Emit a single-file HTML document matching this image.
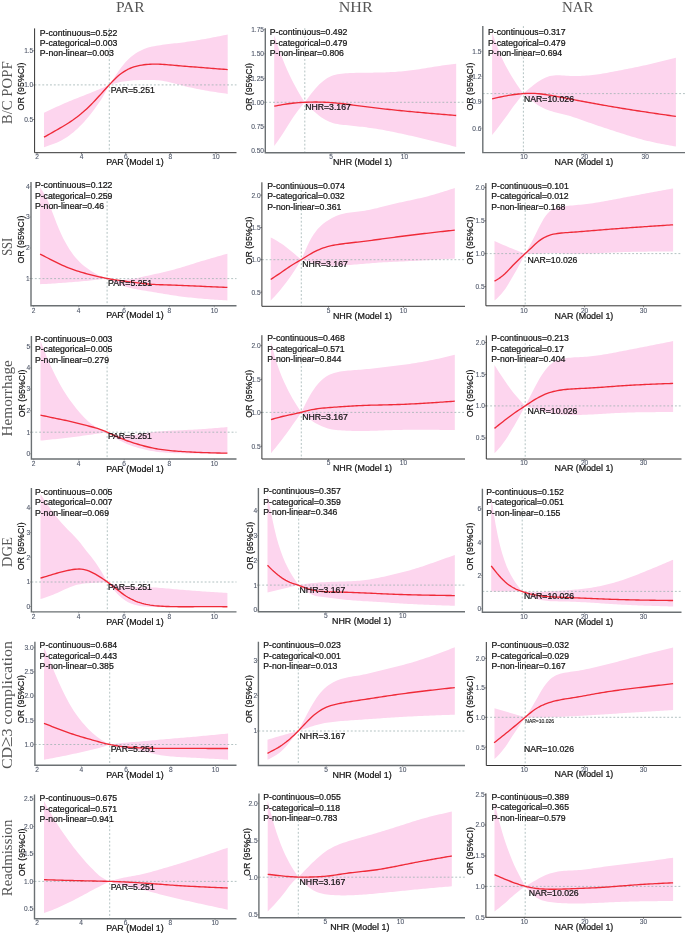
<!DOCTYPE html>
<html><head><meta charset="utf-8"><style>
html,body{margin:0;padding:0;background:#fff;}
svg{display:block;will-change:transform;}
.pt{font-family:"Liberation Sans",sans-serif;font-size:8.7px;fill:#151515;stroke:#151515;stroke-width:0.24px;}
.tk{font-family:"Liberation Sans",sans-serif;font-size:6.6px;fill:#4e5668;stroke:#4e5668;stroke-width:0.1px;}
.rl{font-family:"Liberation Serif",serif;font-size:15px;fill:#555;}
svg{-webkit-font-smoothing:antialiased;}
.dash{stroke:#9fb2b2;stroke-width:0.8;stroke-dasharray:1.9,1.95;fill:none;}
.curve{stroke:#EF2A38;stroke-width:1.35;fill:none;stroke-linejoin:round;}
.yl{font-family:"Liberation Sans",sans-serif;font-size:8.8px;fill:#111;stroke:#111;stroke-width:0.18px;}
</style></head><body>
<svg width="685" height="933" viewBox="0 0 685 933">
<path d="M44.00,112.70L46.11,111.70L48.21,110.71L50.32,109.72L52.43,108.75L54.53,107.79L56.64,106.83L58.75,105.89L60.85,104.95L62.96,104.02L65.06,103.11L67.17,102.20L69.28,101.31L71.38,100.42L73.49,99.56L75.60,98.71L77.70,97.88L79.81,97.06L81.92,96.24L84.02,95.42L86.13,94.61L88.24,93.78L90.34,92.94L92.45,92.09L94.55,91.22L96.66,90.34L98.77,89.45L100.87,88.56L102.98,87.65L105.09,86.74L107.19,85.82L109.30,84.90L111.34,81.79L113.38,78.71L115.42,75.67L117.47,72.71L119.51,69.83L121.55,67.08L123.59,64.49L125.63,62.10L127.67,59.93L129.71,57.98L131.76,56.23L133.80,54.68L135.84,53.30L137.88,52.05L139.92,50.93L141.96,49.94L144.00,49.06L146.04,48.28L148.09,47.61L150.13,47.04L152.17,46.55L154.21,46.13L156.25,45.76L158.29,45.44L160.33,45.14L162.38,44.86L164.42,44.59L166.46,44.33L168.50,44.08L170.54,43.84L172.58,43.60L174.62,43.37L176.67,43.13L178.71,42.89L180.75,42.64L182.79,42.39L184.83,42.13L186.87,41.86L188.91,41.57L190.96,41.27L193.00,40.96L195.04,40.64L197.08,40.31L199.12,39.96L201.16,39.61L203.20,39.25L205.24,38.89L207.29,38.51L209.33,38.13L211.37,37.74L213.41,37.35L215.45,36.95L217.49,36.55L219.53,36.14L221.58,35.73L223.62,35.32L225.66,34.91L227.70,34.50L227.7,93.9L225.66,93.61L223.62,93.32L221.58,93.03L219.53,92.73L217.49,92.43L215.45,92.12L213.41,91.81L211.37,91.49L209.33,91.16L207.29,90.82L205.24,90.47L203.20,90.11L201.16,89.73L199.12,89.34L197.08,88.94L195.04,88.52L193.00,88.08L190.96,87.62L188.91,87.15L186.87,86.65L184.83,86.13L182.79,85.60L180.75,85.05L178.71,84.51L176.67,83.97L174.62,83.43L172.58,82.92L170.54,82.43L168.50,81.97L166.46,81.54L164.42,81.17L162.38,80.84L160.33,80.56L158.29,80.35L156.25,80.20L154.21,80.09L152.17,80.03L150.13,79.99L148.09,79.97L146.04,79.97L144.00,79.99L141.96,80.02L139.92,80.07L137.88,80.14L135.84,80.24L133.80,80.37L131.76,80.52L129.71,80.71L127.67,80.93L125.63,81.20L123.59,81.51L121.55,81.86L119.51,82.27L117.47,82.73L115.42,83.23L113.38,83.77L111.34,84.33L109.30,84.90L107.19,88.95L105.09,92.86L102.98,96.51L100.87,99.91L98.77,103.09L96.66,106.10L94.55,108.97L92.45,111.73L90.34,114.41L88.24,117.00L86.13,119.49L84.02,121.88L81.92,124.16L79.81,126.33L77.70,128.38L75.60,130.31L73.49,132.13L71.38,133.83L69.28,135.42L67.17,136.89L65.06,138.26L62.96,139.51L60.85,140.66L58.75,141.72L56.64,142.68L54.53,143.56L52.43,144.37L50.32,145.12L48.21,145.84L46.11,146.53L44.00,147.20Z" fill="#FDD5EE"/>
<line x1="109.3" y1="28.4" x2="109.3" y2="152.7" class="dash"/>
<line x1="34.6" y1="84.9" x2="236.5" y2="84.9" class="dash"/>
<path d="M44.00,137.20L46.04,136.05L48.08,134.89L50.12,133.74L52.16,132.58L54.21,131.42L56.25,130.25L58.29,129.08L60.33,127.90L62.37,126.71L64.41,125.50L66.45,124.25L68.49,122.97L70.53,121.64L72.58,120.26L74.62,118.81L76.66,117.31L78.70,115.73L80.74,114.08L82.78,112.35L84.82,110.54L86.86,108.66L88.90,106.71L90.95,104.69L92.99,102.61L95.03,100.47L97.07,98.29L99.11,96.07L101.15,93.83L103.19,91.57L105.23,89.31L107.27,87.07L109.32,84.84L111.36,82.65L113.40,80.52L115.44,78.49L117.48,76.58L119.52,74.83L121.56,73.24L123.60,71.83L125.64,70.57L127.69,69.47L129.73,68.50L131.77,67.67L133.81,66.96L135.85,66.35L137.89,65.84L139.93,65.42L141.97,65.07L144.01,64.78L146.06,64.54L148.10,64.36L150.14,64.23L152.18,64.15L154.22,64.11L156.26,64.12L158.30,64.18L160.34,64.27L162.38,64.39L164.43,64.53L166.47,64.69L168.51,64.86L170.55,65.03L172.59,65.20L174.63,65.37L176.67,65.54L178.71,65.71L180.75,65.88L182.80,66.05L184.84,66.22L186.88,66.38L188.92,66.55L190.96,66.71L193.00,66.88L195.04,67.04L197.08,67.20L199.12,67.36L201.17,67.53L203.21,67.69L205.25,67.85L207.29,68.01L209.33,68.17L211.37,68.33L213.41,68.49L215.45,68.65L217.49,68.81L219.54,68.97L221.58,69.12L223.62,69.28L225.66,69.44L227.70,69.60" class="curve"/>
<path d="M34.6,28.4V152.7H236.5" fill="none" stroke="#333" stroke-width="1.0"/>
<line x1="37.0" y1="152.7" x2="37.0" y2="154.2" stroke="#333" stroke-width="0.6"/>
<text x="37.0" y="159.4" class="tk" text-anchor="middle">2</text>
<line x1="81.5" y1="152.7" x2="81.5" y2="154.2" stroke="#333" stroke-width="0.6"/>
<text x="81.5" y="159.4" class="tk" text-anchor="middle">4</text>
<line x1="125.8" y1="152.7" x2="125.8" y2="154.2" stroke="#333" stroke-width="0.6"/>
<text x="125.8" y="159.4" class="tk" text-anchor="middle">6</text>
<line x1="170.3" y1="152.7" x2="170.3" y2="154.2" stroke="#333" stroke-width="0.6"/>
<text x="170.3" y="159.4" class="tk" text-anchor="middle">8</text>
<line x1="216.0" y1="152.7" x2="216.0" y2="154.2" stroke="#333" stroke-width="0.6"/>
<text x="216.0" y="159.4" class="tk" text-anchor="middle">10</text>
<line x1="33.1" y1="50.8" x2="34.6" y2="50.8" stroke="#333" stroke-width="0.6"/>
<text x="33.3" y="53.2" class="tk" text-anchor="end">1.5</text>
<line x1="33.1" y1="85.0" x2="34.6" y2="85.0" stroke="#333" stroke-width="0.6"/>
<text x="33.3" y="87.4" class="tk" text-anchor="end">1.0</text>
<line x1="33.1" y1="119.5" x2="34.6" y2="119.5" stroke="#333" stroke-width="0.6"/>
<text x="33.3" y="121.9" class="tk" text-anchor="end">0.5</text>
<text x="39.8" y="35.8" class="pt">P-continuous=0.522</text>
<text x="39.8" y="46.1" class="pt">P-categorical=0.003</text>
<text x="39.8" y="56.4" class="pt">P-non-linear=0.003</text>
<text x="110.8" y="92.7" class="pt">PAR=5.251</text>
<text x="106.2" y="165.3" class="pt" style="font-size:8.9px">PAR (Model 1)</text>
<text transform="translate(24.3,86.5) rotate(-90)" class="yl" text-anchor="middle">OR (95%CI)</text>
<path d="M274.20,34.90L276.39,41.64L278.57,48.06L280.76,54.14L282.94,59.86L285.13,65.22L287.31,70.26L289.50,75.02L291.69,79.50L293.87,83.75L296.06,87.83L298.24,91.76L300.43,95.49L302.61,99.01L304.80,102.30L306.85,99.52L308.89,96.77L310.94,94.08L312.98,91.48L315.03,89.01L317.08,86.69L319.12,84.56L321.17,82.63L323.21,80.91L325.26,79.40L327.31,78.08L329.35,76.96L331.40,76.02L333.44,75.28L335.49,74.69L337.54,74.24L339.58,73.90L341.63,73.64L343.67,73.45L345.72,73.31L347.76,73.18L349.81,73.07L351.86,72.98L353.90,72.91L355.95,72.85L357.99,72.80L360.04,72.76L362.09,72.73L364.13,72.71L366.18,72.69L368.22,72.67L370.27,72.65L372.32,72.63L374.36,72.61L376.41,72.58L378.45,72.54L380.50,72.49L382.55,72.44L384.59,72.38L386.64,72.30L388.68,72.22L390.73,72.12L392.78,72.01L394.82,71.89L396.87,71.76L398.91,71.61L400.96,71.44L403.01,71.26L405.05,71.05L407.10,70.84L409.14,70.60L411.19,70.34L413.24,70.06L415.28,69.77L417.33,69.47L419.37,69.15L421.42,68.82L423.46,68.49L425.51,68.16L427.56,67.82L429.60,67.48L431.65,67.15L433.69,66.83L435.74,66.51L437.79,66.20L439.83,65.91L441.88,65.62L443.92,65.35L445.97,65.08L448.02,64.81L450.06,64.56L452.11,64.30L454.15,64.05L456.20,63.80L456.2,147.0L454.15,146.45L452.11,145.90L450.06,145.36L448.02,144.81L445.97,144.27L443.92,143.74L441.88,143.20L439.83,142.67L437.79,142.15L435.74,141.64L433.69,141.13L431.65,140.63L429.60,140.13L427.56,139.64L425.51,139.16L423.46,138.67L421.42,138.20L419.37,137.73L417.33,137.26L415.28,136.79L413.24,136.33L411.19,135.86L409.14,135.40L407.10,134.95L405.05,134.49L403.01,134.04L400.96,133.59L398.91,133.14L396.87,132.71L394.82,132.28L392.78,131.85L390.73,131.44L388.68,131.03L386.64,130.63L384.59,130.25L382.55,129.87L380.50,129.51L378.45,129.16L376.41,128.83L374.36,128.51L372.32,128.20L370.27,127.91L368.22,127.63L366.18,127.37L364.13,127.11L362.09,126.86L360.04,126.63L357.99,126.40L355.95,126.17L353.90,125.95L351.86,125.74L349.81,125.53L347.76,125.32L345.72,125.11L343.67,124.90L341.63,124.68L339.58,124.41L337.54,124.09L335.49,123.69L333.44,123.18L331.40,122.55L329.35,121.78L327.31,120.85L325.26,119.78L323.21,118.57L321.17,117.21L319.12,115.70L317.08,114.06L315.03,112.29L312.98,110.42L310.94,108.46L308.89,106.44L306.85,104.38L304.80,102.30L302.61,104.83L300.43,107.51L298.24,110.32L296.06,113.25L293.87,116.29L291.69,119.45L289.50,122.88L287.31,126.46L285.13,130.03L282.94,133.40L280.76,136.67L278.57,139.88L276.39,143.03L274.20,146.10Z" fill="#FDD5EE"/>
<line x1="304.8" y1="28.2" x2="304.8" y2="152.8" class="dash"/>
<line x1="265.3" y1="102.3" x2="465.0" y2="102.3" class="dash"/>
<path d="M274.20,106.20L276.22,105.82L278.24,105.44L280.27,105.06L282.29,104.70L284.31,104.36L286.33,104.04L288.36,103.74L290.38,103.47L292.40,103.23L294.42,103.01L296.44,102.83L298.47,102.67L300.49,102.53L302.51,102.41L304.53,102.31L306.56,102.22L308.58,102.15L310.60,102.10L312.62,102.06L314.64,102.04L316.67,102.04L318.69,102.05L320.71,102.09L322.73,102.14L324.76,102.22L326.78,102.31L328.80,102.43L330.82,102.56L332.84,102.72L334.87,102.90L336.89,103.09L338.91,103.30L340.93,103.53L342.96,103.76L344.98,104.01L347.00,104.26L349.02,104.53L351.04,104.79L353.07,105.06L355.09,105.34L357.11,105.61L359.13,105.88L361.16,106.15L363.18,106.41L365.20,106.67L367.22,106.92L369.24,107.18L371.27,107.42L373.29,107.67L375.31,107.91L377.33,108.14L379.36,108.37L381.38,108.60L383.40,108.83L385.42,109.05L387.44,109.27L389.47,109.49L391.49,109.70L393.51,109.91L395.53,110.12L397.56,110.32L399.58,110.53L401.60,110.73L403.62,110.92L405.64,111.12L407.67,111.31L409.69,111.50L411.71,111.69L413.73,111.88L415.76,112.06L417.78,112.25L419.80,112.43L421.82,112.61L423.84,112.78L425.87,112.96L427.89,113.14L429.91,113.31L431.93,113.48L433.96,113.66L435.98,113.83L438.00,114.00L440.02,114.17L442.04,114.33L444.07,114.50L446.09,114.67L448.11,114.84L450.13,115.00L452.16,115.17L454.18,115.33L456.20,115.50" class="curve"/>
<path d="M265.3,28.2V152.8H465.0" fill="none" stroke="#6b7073" stroke-width="1.4"/>
<line x1="331.1" y1="152.8" x2="331.1" y2="154.3" stroke="#6b7073" stroke-width="0.6"/>
<text x="331.1" y="158.8" class="tk" text-anchor="middle">5</text>
<line x1="404.5" y1="152.8" x2="404.5" y2="154.3" stroke="#6b7073" stroke-width="0.6"/>
<text x="404.5" y="158.8" class="tk" text-anchor="middle">10</text>
<line x1="263.8" y1="29.6" x2="265.3" y2="29.6" stroke="#6b7073" stroke-width="0.6"/>
<text x="264.0" y="32.0" class="tk" text-anchor="end">1.75</text>
<line x1="263.8" y1="53.8" x2="265.3" y2="53.8" stroke="#6b7073" stroke-width="0.6"/>
<text x="264.0" y="56.2" class="tk" text-anchor="end">1.50</text>
<line x1="263.8" y1="78.3" x2="265.3" y2="78.3" stroke="#6b7073" stroke-width="0.6"/>
<text x="264.0" y="80.7" class="tk" text-anchor="end">1.25</text>
<line x1="263.8" y1="102.3" x2="265.3" y2="102.3" stroke="#6b7073" stroke-width="0.6"/>
<text x="264.0" y="104.7" class="tk" text-anchor="end">1.00</text>
<line x1="263.8" y1="126.9" x2="265.3" y2="126.9" stroke="#6b7073" stroke-width="0.6"/>
<text x="264.0" y="129.3" class="tk" text-anchor="end">0.75</text>
<line x1="263.8" y1="151.0" x2="265.3" y2="151.0" stroke="#6b7073" stroke-width="0.6"/>
<text x="264.0" y="153.4" class="tk" text-anchor="end">0.50</text>
<text x="269.8" y="35.4" class="pt">P-continuous=0.492</text>
<text x="269.8" y="45.8" class="pt">P-categorical=0.479</text>
<text x="269.8" y="56.3" class="pt">P-non-linear=0.806</text>
<text x="305.2" y="109.7" class="pt">NHR=3.167</text>
<text x="332.9" y="165.4" class="pt" style="font-size:8.9px">NHR (Model 1)</text>
<text transform="translate(252.3,86.9) rotate(-90)" class="yl" text-anchor="middle">OR (95%CI)</text>
<path d="M492.10,32.30L494.34,38.75L496.57,44.85L498.81,50.59L501.04,55.94L503.28,60.90L505.51,65.45L507.75,69.61L509.99,73.49L512.22,77.19L514.46,80.76L516.69,84.21L518.93,87.51L521.16,90.64L523.40,93.60L525.43,91.83L527.47,90.08L529.50,88.36L531.53,86.69L533.57,85.07L535.60,83.54L537.63,82.09L539.67,80.75L541.70,79.53L543.73,78.45L545.77,77.51L547.80,76.72L549.83,76.10L551.87,75.65L553.90,75.38L555.93,75.26L557.97,75.24L560.00,75.31L562.03,75.43L564.07,75.57L566.10,75.70L568.13,75.80L570.17,75.89L572.20,75.95L574.23,75.98L576.27,75.99L578.30,75.97L580.33,75.92L582.37,75.85L584.40,75.75L586.43,75.62L588.47,75.46L590.50,75.27L592.53,75.06L594.57,74.81L596.60,74.54L598.63,74.25L600.67,73.93L602.70,73.60L604.73,73.25L606.77,72.89L608.80,72.51L610.83,72.12L612.87,71.73L614.90,71.34L616.93,70.94L618.97,70.54L621.00,70.14L623.03,69.75L625.07,69.35L627.10,68.95L629.13,68.54L631.17,68.14L633.20,67.73L635.23,67.31L637.27,66.89L639.30,66.47L641.33,66.03L643.37,65.59L645.40,65.14L647.43,64.68L649.47,64.22L651.50,63.74L653.53,63.26L655.57,62.78L657.60,62.29L659.63,61.79L661.67,61.29L663.70,60.78L665.73,60.27L667.77,59.76L669.80,59.25L671.83,58.73L673.87,58.22L675.90,57.70L675.9,146.5L673.87,146.14L671.83,145.78L669.80,145.42L667.77,145.06L665.73,144.69L663.70,144.31L661.67,143.93L659.63,143.53L657.60,143.13L655.57,142.71L653.53,142.28L651.50,141.83L649.47,141.37L647.43,140.89L645.40,140.40L643.37,139.88L641.33,139.34L639.30,138.79L637.27,138.21L635.23,137.62L633.20,137.02L631.17,136.40L629.13,135.78L627.10,135.14L625.07,134.50L623.03,133.85L621.00,133.20L618.97,132.55L616.93,131.89L614.90,131.24L612.87,130.58L610.83,129.92L608.80,129.27L606.77,128.60L604.73,127.94L602.70,127.27L600.67,126.59L598.63,125.91L596.60,125.22L594.57,124.53L592.53,123.82L590.50,123.11L588.47,122.38L586.43,121.66L584.40,120.93L582.37,120.20L580.33,119.48L578.30,118.78L576.27,118.08L574.23,117.40L572.20,116.74L570.17,116.11L568.13,115.51L566.10,114.94L564.07,114.40L562.03,113.90L560.00,113.41L557.97,112.92L555.93,112.42L553.90,111.90L551.87,111.33L549.83,110.70L547.80,110.00L545.77,109.22L543.73,108.34L541.70,107.35L539.67,106.24L537.63,104.99L535.60,103.61L533.57,102.11L531.53,100.52L529.50,98.86L527.47,97.14L525.43,95.38L523.40,93.60L521.16,96.40L518.93,99.26L516.69,102.16L514.46,105.11L512.22,108.11L509.99,111.21L507.75,114.39L505.51,117.54L503.28,120.60L501.04,123.59L498.81,126.54L496.57,129.44L494.34,132.30L492.10,135.10Z" fill="#FDD5EE"/>
<line x1="523.4" y1="26.1" x2="523.4" y2="152.6" class="dash"/>
<line x1="482.8" y1="93.6" x2="685.0" y2="93.6" class="dash"/>
<path d="M492.10,98.80L494.14,98.34L496.18,97.89L498.23,97.45L500.27,97.01L502.31,96.59L504.35,96.18L506.40,95.79L508.44,95.43L510.48,95.09L512.52,94.78L514.56,94.49L516.61,94.24L518.65,94.01L520.69,93.81L522.73,93.64L524.78,93.50L526.82,93.40L528.86,93.34L530.90,93.32L532.94,93.34L534.99,93.42L537.03,93.56L539.07,93.74L541.11,93.97L543.16,94.24L545.20,94.53L547.24,94.85L549.28,95.19L551.32,95.54L553.37,95.90L555.41,96.27L557.45,96.63L559.49,97.01L561.54,97.39L563.58,97.77L565.62,98.15L567.66,98.54L569.70,98.92L571.75,99.31L573.79,99.70L575.83,100.08L577.87,100.47L579.92,100.85L581.96,101.23L584.00,101.62L586.04,102.00L588.08,102.38L590.13,102.75L592.17,103.13L594.21,103.50L596.25,103.87L598.30,104.24L600.34,104.61L602.38,104.97L604.42,105.33L606.46,105.69L608.51,106.05L610.55,106.40L612.59,106.75L614.63,107.10L616.68,107.44L618.72,107.79L620.76,108.12L622.80,108.46L624.84,108.79L626.89,109.12L628.93,109.44L630.97,109.76L633.01,110.08L635.06,110.40L637.10,110.72L639.14,111.03L641.18,111.34L643.22,111.65L645.27,111.95L647.31,112.26L649.35,112.56L651.39,112.86L653.44,113.16L655.48,113.46L657.52,113.76L659.56,114.05L661.60,114.35L663.65,114.64L665.69,114.94L667.73,115.23L669.77,115.52L671.82,115.82L673.86,116.11L675.90,116.40" class="curve"/>
<path d="M482.8,26.1V152.6H685.0" fill="none" stroke="#6b7073" stroke-width="1.4"/>
<line x1="523.9" y1="152.6" x2="523.9" y2="154.1" stroke="#6b7073" stroke-width="0.6"/>
<text x="523.9" y="158.6" class="tk" text-anchor="middle">10</text>
<line x1="584.6" y1="152.6" x2="584.6" y2="154.1" stroke="#6b7073" stroke-width="0.6"/>
<text x="584.6" y="158.6" class="tk" text-anchor="middle">20</text>
<line x1="645.2" y1="152.6" x2="645.2" y2="154.1" stroke="#6b7073" stroke-width="0.6"/>
<text x="645.2" y="158.6" class="tk" text-anchor="middle">30</text>
<line x1="481.3" y1="51.2" x2="482.8" y2="51.2" stroke="#6b7073" stroke-width="0.6"/>
<text x="481.5" y="53.6" class="tk" text-anchor="end">1.5</text>
<line x1="481.3" y1="76.4" x2="482.8" y2="76.4" stroke="#6b7073" stroke-width="0.6"/>
<text x="481.5" y="78.8" class="tk" text-anchor="end">1.2</text>
<line x1="481.3" y1="102.0" x2="482.8" y2="102.0" stroke="#6b7073" stroke-width="0.6"/>
<text x="481.5" y="104.4" class="tk" text-anchor="end">0.9</text>
<line x1="481.3" y1="128.1" x2="482.8" y2="128.1" stroke="#6b7073" stroke-width="0.6"/>
<text x="481.5" y="130.5" class="tk" text-anchor="end">0.6</text>
<text x="488.0" y="35.4" class="pt">P-continuous=0.317</text>
<text x="488.0" y="45.8" class="pt">P-categorical=0.479</text>
<text x="488.0" y="56.3" class="pt">P-non-linear=0.694</text>
<text x="524.0" y="101.5" class="pt">NAR=10.026</text>
<text x="554.6" y="165.4" class="pt" style="font-size:8.9px">NAR (Model 1)</text>
<text transform="translate(473.2,86.6) rotate(-90)" class="yl" text-anchor="middle">OR (95%CI)</text>
<path d="M40.10,187.50L42.19,190.62L44.29,193.97L46.38,197.78L48.48,202.28L50.57,207.50L52.66,213.04L54.76,218.59L56.85,223.98L58.94,229.08L61.04,233.80L63.13,238.13L65.22,242.11L67.32,245.79L69.41,249.17L71.51,252.28L73.60,255.13L75.69,257.73L77.79,260.09L79.88,262.23L81.97,264.16L84.07,265.91L86.16,267.52L88.26,269.01L90.35,270.43L92.44,271.76L94.54,273.02L96.63,274.18L98.72,275.24L100.82,276.19L102.91,277.04L105.01,277.84L107.10,278.60L109.14,278.90L111.18,279.19L113.22,279.44L115.26,279.67L117.29,279.83L119.33,279.94L121.37,279.96L123.41,279.91L125.45,279.78L127.49,279.59L129.53,279.35L131.57,279.05L133.61,278.71L135.65,278.33L137.68,277.92L139.72,277.49L141.76,277.04L143.80,276.58L145.84,276.12L147.88,275.67L149.92,275.21L151.96,274.76L154.00,274.31L156.04,273.86L158.07,273.41L160.11,272.95L162.15,272.48L164.19,272.00L166.23,271.51L168.27,271.01L170.31,270.49L172.35,269.96L174.39,269.41L176.43,268.83L178.46,268.25L180.50,267.65L182.54,267.04L184.58,266.42L186.62,265.79L188.66,265.16L190.70,264.52L192.74,263.89L194.78,263.25L196.82,262.62L198.85,261.99L200.89,261.37L202.93,260.75L204.97,260.14L207.01,259.54L209.05,258.94L211.09,258.35L213.13,257.76L215.17,257.17L217.21,256.59L219.24,256.01L221.28,255.43L223.32,254.85L225.36,254.28L227.40,253.70L227.4,300.5L225.36,300.37L223.32,300.24L221.28,300.10L219.24,299.97L217.21,299.83L215.17,299.69L213.13,299.54L211.09,299.40L209.05,299.25L207.01,299.09L204.97,298.93L202.93,298.76L200.89,298.59L198.85,298.40L196.82,298.22L194.78,298.02L192.74,297.81L190.70,297.60L188.66,297.38L186.62,297.15L184.58,296.91L182.54,296.66L180.50,296.40L178.46,296.13L176.43,295.85L174.39,295.56L172.35,295.26L170.31,294.95L168.27,294.62L166.23,294.29L164.19,293.96L162.15,293.62L160.11,293.27L158.07,292.92L156.04,292.57L154.00,292.22L151.96,291.87L149.92,291.52L147.88,291.18L145.84,290.84L143.80,290.51L141.76,290.18L139.72,289.83L137.68,289.48L135.65,289.10L133.61,288.69L131.57,288.25L129.53,287.76L127.49,287.23L125.45,286.64L123.41,286.00L121.37,285.28L119.33,284.49L117.29,283.62L115.26,282.69L113.22,281.71L111.18,280.70L109.14,279.65L107.10,278.60L105.01,278.85L102.91,279.10L100.82,279.34L98.72,279.58L96.63,279.81L94.54,280.04L92.44,280.26L90.35,280.48L88.26,280.69L86.16,280.90L84.07,281.10L81.97,281.30L79.88,281.49L77.79,281.67L75.69,281.85L73.60,282.02L71.51,282.19L69.41,282.35L67.32,282.51L65.22,282.66L63.13,282.81L61.04,282.96L58.94,283.11L56.85,283.25L54.76,283.38L52.66,283.51L50.57,283.64L48.48,283.76L46.38,283.88L44.29,283.99L42.19,284.10L40.10,284.20Z" fill="#FDD5EE"/>
<line x1="107.1" y1="181.9" x2="107.1" y2="305.8" class="dash"/>
<line x1="31.0" y1="278.6" x2="236.5" y2="278.6" class="dash"/>
<path d="M40.10,254.20L42.14,255.20L44.17,256.21L46.21,257.23L48.24,258.25L50.28,259.29L52.32,260.33L54.35,261.37L56.39,262.39L58.42,263.40L60.46,264.38L62.49,265.33L64.53,266.24L66.57,267.11L68.60,267.94L70.64,268.72L72.67,269.46L74.71,270.16L76.75,270.83L78.78,271.47L80.82,272.09L82.85,272.69L84.89,273.27L86.93,273.82L88.96,274.36L91.00,274.87L93.03,275.37L95.07,275.85L97.10,276.32L99.14,276.79L101.18,277.24L103.21,277.68L105.25,278.11L107.28,278.51L109.32,278.88L111.36,279.23L113.39,279.56L115.43,279.87L117.46,280.16L119.50,280.45L121.53,280.73L123.57,281.01L125.61,281.29L127.64,281.57L129.68,281.85L131.71,282.14L133.75,282.42L135.79,282.69L137.82,282.95L139.86,283.20L141.89,283.44L143.93,283.66L145.97,283.86L148.00,284.03L150.04,284.19L152.07,284.32L154.11,284.44L156.14,284.55L158.18,284.64L160.22,284.72L162.25,284.79L164.29,284.86L166.32,284.92L168.36,284.98L170.40,285.04L172.43,285.10L174.47,285.17L176.50,285.24L178.54,285.32L180.58,285.40L182.61,285.48L184.65,285.57L186.68,285.65L188.72,285.74L190.75,285.84L192.79,285.93L194.83,286.02L196.86,286.11L198.90,286.20L200.93,286.29L202.97,286.38L205.01,286.47L207.04,286.56L209.08,286.64L211.11,286.73L213.15,286.82L215.18,286.90L217.22,286.98L219.26,287.07L221.29,287.15L223.33,287.23L225.36,287.32L227.40,287.40" class="curve"/>
<path d="M31.0,181.9V305.8H236.5" fill="none" stroke="#6b7073" stroke-width="1.4"/>
<line x1="33.7" y1="305.8" x2="33.7" y2="307.3" stroke="#6b7073" stroke-width="0.6"/>
<text x="33.7" y="312.5" class="tk" text-anchor="middle">2</text>
<line x1="78.7" y1="305.8" x2="78.7" y2="307.3" stroke="#6b7073" stroke-width="0.6"/>
<text x="78.7" y="312.5" class="tk" text-anchor="middle">4</text>
<line x1="124.2" y1="305.8" x2="124.2" y2="307.3" stroke="#6b7073" stroke-width="0.6"/>
<text x="124.2" y="312.5" class="tk" text-anchor="middle">6</text>
<line x1="169.4" y1="305.8" x2="169.4" y2="307.3" stroke="#6b7073" stroke-width="0.6"/>
<text x="169.4" y="312.5" class="tk" text-anchor="middle">8</text>
<line x1="214.3" y1="305.8" x2="214.3" y2="307.3" stroke="#6b7073" stroke-width="0.6"/>
<text x="214.3" y="312.5" class="tk" text-anchor="middle">10</text>
<line x1="29.5" y1="186.6" x2="31.0" y2="186.6" stroke="#6b7073" stroke-width="0.6"/>
<text x="29.7" y="189.0" class="tk" text-anchor="end">4</text>
<line x1="29.5" y1="217.0" x2="31.0" y2="217.0" stroke="#6b7073" stroke-width="0.6"/>
<text x="29.7" y="219.4" class="tk" text-anchor="end">3</text>
<line x1="29.5" y1="248.0" x2="31.0" y2="248.0" stroke="#6b7073" stroke-width="0.6"/>
<text x="29.7" y="250.4" class="tk" text-anchor="end">2</text>
<line x1="29.5" y1="278.6" x2="31.0" y2="278.6" stroke="#6b7073" stroke-width="0.6"/>
<text x="29.7" y="281.0" class="tk" text-anchor="end">1</text>
<text x="34.9" y="188.4" class="pt">P-continuous=0.122</text>
<text x="34.9" y="198.9" class="pt">P-categorical=0.259</text>
<text x="34.9" y="209.4" class="pt">P-non-linear=0.46</text>
<text x="108.1" y="286.2" class="pt">PAR=5.251</text>
<text x="106.2" y="318.0" class="pt" style="font-size:8.9px">PAR (Model 1)</text>
<text transform="translate(23.9,239.6) rotate(-90)" class="yl" text-anchor="middle">OR (95%CI)</text>
<path d="M270.70,237.40L272.89,238.52L275.07,239.73L277.26,241.02L279.44,242.39L281.63,243.82L283.81,245.31L286.00,246.91L288.19,248.65L290.37,250.45L292.56,252.26L294.74,254.08L296.93,255.92L299.11,257.80L301.30,259.70L303.35,254.90L305.39,250.22L307.44,245.75L309.49,241.59L311.53,237.85L313.58,234.55L315.63,231.64L317.67,229.10L319.72,226.89L321.77,224.98L323.81,223.31L325.86,221.82L327.91,220.47L329.95,219.21L332.00,218.05L334.05,216.99L336.09,216.04L338.14,215.21L340.19,214.50L342.23,213.91L344.28,213.43L346.33,213.04L348.37,212.72L350.42,212.46L352.47,212.24L354.51,212.03L356.56,211.83L358.61,211.62L360.65,211.37L362.70,211.07L364.75,210.74L366.79,210.37L368.84,209.97L370.89,209.55L372.93,209.09L374.98,208.62L377.03,208.13L379.07,207.62L381.12,207.11L383.17,206.58L385.21,206.06L387.26,205.54L389.31,205.02L391.35,204.52L393.40,204.02L395.45,203.54L397.49,203.07L399.54,202.62L401.59,202.17L403.63,201.73L405.68,201.29L407.73,200.85L409.77,200.41L411.82,199.97L413.87,199.53L415.91,199.08L417.96,198.62L420.01,198.15L422.05,197.67L424.10,197.18L426.15,196.67L428.19,196.14L430.24,195.59L432.29,195.02L434.33,194.43L436.38,193.83L438.43,193.22L440.47,192.59L442.52,191.96L444.57,191.31L446.61,190.66L448.66,190.00L450.71,189.34L452.75,188.67L454.80,188.00L454.8,258.5L452.75,258.63L450.71,258.76L448.66,258.89L446.61,259.02L444.57,259.15L442.52,259.27L440.47,259.40L438.43,259.53L436.38,259.65L434.33,259.78L432.29,259.90L430.24,260.02L428.19,260.14L426.15,260.25L424.10,260.37L422.05,260.48L420.01,260.59L417.96,260.70L415.91,260.81L413.87,260.91L411.82,261.01L409.77,261.11L407.73,261.20L405.68,261.30L403.63,261.39L401.59,261.48L399.54,261.57L397.49,261.66L395.45,261.75L393.40,261.84L391.35,261.94L389.31,262.04L387.26,262.15L385.21,262.26L383.17,262.37L381.12,262.49L379.07,262.62L377.03,262.76L374.98,262.91L372.93,263.06L370.89,263.22L368.84,263.39L366.79,263.57L364.75,263.74L362.70,263.92L360.65,264.10L358.61,264.28L356.56,264.45L354.51,264.62L352.47,264.78L350.42,264.94L348.37,265.09L346.33,265.22L344.28,265.35L342.23,265.45L340.19,265.55L338.14,265.62L336.09,265.66L334.05,265.68L332.00,265.67L329.95,265.63L327.91,265.55L325.86,265.42L323.81,265.25L321.77,265.00L319.72,264.67L317.67,264.23L315.63,263.71L313.58,263.13L311.53,262.52L309.49,261.91L307.44,261.34L305.39,260.78L303.35,260.24L301.30,259.70L299.11,263.30L296.93,266.79L294.74,270.18L292.56,273.46L290.37,276.65L288.19,279.76L286.00,282.75L283.81,285.58L281.63,288.30L279.44,290.93L277.26,293.48L275.07,295.93L272.89,298.28L270.70,300.50Z" fill="#FDD5EE"/>
<line x1="301.3" y1="182.3" x2="301.3" y2="306.3" class="dash"/>
<line x1="261.9" y1="259.7" x2="465.0" y2="259.7" class="dash"/>
<path d="M270.70,279.50L272.72,278.15L274.75,276.79L276.77,275.43L278.79,274.07L280.82,272.69L282.84,271.31L284.86,269.91L286.88,268.51L288.91,267.13L290.93,265.79L292.95,264.50L294.98,263.27L297.00,262.09L299.02,260.91L301.05,259.72L303.07,258.48L305.09,257.22L307.12,255.96L309.14,254.73L311.16,253.55L313.18,252.43L315.21,251.39L317.23,250.41L319.25,249.52L321.28,248.70L323.30,247.95L325.32,247.28L327.35,246.69L329.37,246.15L331.39,245.69L333.42,245.27L335.44,244.90L337.46,244.57L339.48,244.26L341.51,243.98L343.53,243.71L345.55,243.45L347.58,243.21L349.60,242.97L351.62,242.74L353.65,242.51L355.67,242.29L357.69,242.06L359.72,241.83L361.74,241.59L363.76,241.34L365.78,241.09L367.81,240.84L369.83,240.57L371.85,240.31L373.88,240.04L375.90,239.77L377.92,239.50L379.95,239.22L381.97,238.94L383.99,238.67L386.02,238.39L388.04,238.12L390.06,237.84L392.08,237.57L394.11,237.30L396.13,237.03L398.15,236.77L400.18,236.51L402.20,236.25L404.22,235.99L406.25,235.74L408.27,235.49L410.29,235.24L412.32,234.99L414.34,234.75L416.36,234.50L418.38,234.26L420.41,234.02L422.43,233.78L424.45,233.54L426.48,233.31L428.50,233.07L430.52,232.84L432.55,232.61L434.57,232.38L436.59,232.15L438.62,231.92L440.64,231.69L442.66,231.46L444.68,231.23L446.71,231.01L448.73,230.78L450.75,230.55L452.78,230.33L454.80,230.10" class="curve"/>
<path d="M261.9,182.3V306.3H465.0" fill="none" stroke="#333" stroke-width="1.0"/>
<line x1="328.5" y1="306.3" x2="328.5" y2="307.8" stroke="#333" stroke-width="0.6"/>
<text x="328.5" y="312.5" class="tk" text-anchor="middle">5</text>
<line x1="403.4" y1="306.3" x2="403.4" y2="307.8" stroke="#333" stroke-width="0.6"/>
<text x="403.4" y="312.5" class="tk" text-anchor="middle">10</text>
<line x1="260.4" y1="195.1" x2="261.9" y2="195.1" stroke="#333" stroke-width="0.6"/>
<text x="260.6" y="197.5" class="tk" text-anchor="end">2.0</text>
<line x1="260.4" y1="227.5" x2="261.9" y2="227.5" stroke="#333" stroke-width="0.6"/>
<text x="260.6" y="229.9" class="tk" text-anchor="end">1.5</text>
<line x1="260.4" y1="259.7" x2="261.9" y2="259.7" stroke="#333" stroke-width="0.6"/>
<text x="260.6" y="262.1" class="tk" text-anchor="end">1.0</text>
<line x1="260.4" y1="292.1" x2="261.9" y2="292.1" stroke="#333" stroke-width="0.6"/>
<text x="260.6" y="294.5" class="tk" text-anchor="end">0.5</text>
<text x="267.2" y="188.9" class="pt">P-continuous=0.074</text>
<text x="267.2" y="199.4" class="pt">P-categorical=0.032</text>
<text x="267.2" y="209.9" class="pt">P-non-linear=0.361</text>
<text x="302.2" y="267.2" class="pt">NHR=3.167</text>
<text x="332.9" y="318.9" class="pt" style="font-size:8.9px">NHR (Model 1)</text>
<text transform="translate(252.3,240.5) rotate(-90)" class="yl" text-anchor="middle">OR (95%CI)</text>
<path d="M494.50,241.00L496.69,242.00L498.89,242.99L501.08,243.96L503.27,244.91L505.46,245.85L507.66,246.77L509.85,247.68L512.04,248.58L514.24,249.45L516.43,250.32L518.62,251.16L520.81,251.99L523.01,252.80L525.20,253.60L527.25,249.97L529.31,246.28L531.36,242.45L533.42,238.48L535.47,234.40L537.53,230.29L539.58,226.24L541.63,222.38L543.69,218.84L545.74,215.73L547.80,213.19L549.85,211.20L551.90,209.68L553.96,208.54L556.01,207.71L558.07,207.10L560.12,206.69L562.18,206.39L564.23,206.16L566.28,205.96L568.34,205.77L570.39,205.58L572.45,205.40L574.50,205.23L576.55,205.05L578.61,204.86L580.66,204.67L582.72,204.46L584.77,204.24L586.83,204.00L588.88,203.74L590.93,203.46L592.99,203.16L595.04,202.85L597.10,202.53L599.15,202.19L601.20,201.85L603.26,201.49L605.31,201.12L607.37,200.75L609.42,200.36L611.48,199.98L613.53,199.59L615.58,199.19L617.64,198.80L619.69,198.40L621.75,198.01L623.80,197.61L625.85,197.22L627.91,196.83L629.96,196.44L632.02,196.05L634.07,195.66L636.12,195.27L638.18,194.89L640.23,194.50L642.29,194.12L644.34,193.73L646.40,193.35L648.45,192.96L650.50,192.58L652.56,192.20L654.61,191.82L656.67,191.44L658.72,191.06L660.77,190.68L662.83,190.30L664.88,189.92L666.94,189.54L668.99,189.16L671.05,188.78L673.10,188.40L673.1,251.5L671.05,251.50L668.99,251.51L666.94,251.51L664.88,251.52L662.83,251.52L660.77,251.53L658.72,251.54L656.67,251.55L654.61,251.56L652.56,251.57L650.50,251.59L648.45,251.61L646.40,251.63L644.34,251.65L642.29,251.68L640.23,251.71L638.18,251.74L636.12,251.77L634.07,251.81L632.02,251.86L629.96,251.91L627.91,251.96L625.85,252.02L623.80,252.08L621.75,252.15L619.69,252.22L617.64,252.30L615.58,252.39L613.53,252.47L611.48,252.57L609.42,252.66L607.37,252.76L605.31,252.86L603.26,252.96L601.20,253.06L599.15,253.16L597.10,253.25L595.04,253.34L592.99,253.43L590.93,253.51L588.88,253.58L586.83,253.65L584.77,253.71L582.72,253.76L580.66,253.80L578.61,253.83L576.55,253.85L574.50,253.85L572.45,253.84L570.39,253.82L568.34,253.78L566.28,253.72L564.23,253.65L562.18,253.56L560.12,253.46L558.07,253.37L556.01,253.29L553.96,253.23L551.90,253.20L549.85,253.21L547.80,253.26L545.74,253.37L543.69,253.51L541.63,253.67L539.58,253.82L537.53,253.94L535.47,254.01L533.42,254.02L531.36,253.97L529.31,253.87L527.25,253.74L525.20,253.60L523.01,257.93L520.81,262.14L518.62,266.23L516.43,270.21L514.24,274.08L512.04,277.85L509.85,281.62L507.66,285.28L505.46,288.65L503.27,291.56L501.08,294.17L498.89,296.57L496.69,298.69L494.50,300.50Z" fill="#FDD5EE"/>
<line x1="525.2" y1="183.1" x2="525.2" y2="305.8" class="dash"/>
<line x1="485.9" y1="253.6" x2="681.5" y2="253.6" class="dash"/>
<path d="M494.50,281.20L496.53,279.98L498.56,278.71L500.59,277.33L502.62,275.78L504.65,274.01L506.68,272.03L508.71,269.90L510.74,267.72L512.77,265.55L514.80,263.46L516.83,261.45L518.85,259.49L520.88,257.58L522.91,255.70L524.94,253.84L526.97,251.98L529.00,250.10L531.03,248.19L533.06,246.26L535.09,244.35L537.12,242.52L539.15,240.84L541.18,239.36L543.21,238.10L545.24,237.02L547.27,236.11L549.30,235.35L551.33,234.72L553.36,234.21L555.39,233.80L557.42,233.47L559.45,233.21L561.48,233.00L563.50,232.84L565.53,232.70L567.56,232.57L569.59,232.43L571.62,232.29L573.65,232.15L575.68,232.00L577.71,231.84L579.74,231.69L581.77,231.53L583.80,231.36L585.83,231.20L587.86,231.03L589.89,230.86L591.92,230.70L593.95,230.53L595.98,230.36L598.01,230.19L600.04,230.02L602.07,229.85L604.10,229.69L606.12,229.52L608.15,229.36L610.18,229.20L612.21,229.04L614.24,228.89L616.27,228.73L618.30,228.58L620.33,228.43L622.36,228.28L624.39,228.13L626.42,227.98L628.45,227.83L630.48,227.69L632.51,227.54L634.54,227.40L636.57,227.25L638.60,227.11L640.63,226.97L642.66,226.83L644.69,226.69L646.72,226.56L648.75,226.42L650.77,226.28L652.80,226.14L654.83,226.01L656.86,225.87L658.89,225.74L660.92,225.60L662.95,225.47L664.98,225.33L667.01,225.20L669.04,225.07L671.07,224.93L673.10,224.80" class="curve"/>
<path d="M485.9,183.1V305.8H681.5" fill="none" stroke="#333" stroke-width="1.0"/>
<line x1="524.0" y1="305.8" x2="524.0" y2="307.3" stroke="#333" stroke-width="0.6"/>
<text x="524.0" y="312.5" class="tk" text-anchor="middle">10</text>
<line x1="584.6" y1="305.8" x2="584.6" y2="307.3" stroke="#333" stroke-width="0.6"/>
<text x="584.6" y="312.5" class="tk" text-anchor="middle">20</text>
<line x1="643.5" y1="305.8" x2="643.5" y2="307.3" stroke="#333" stroke-width="0.6"/>
<text x="643.5" y="312.5" class="tk" text-anchor="middle">30</text>
<line x1="484.4" y1="187.5" x2="485.9" y2="187.5" stroke="#333" stroke-width="0.6"/>
<text x="484.6" y="189.9" class="tk" text-anchor="end">2.0</text>
<line x1="484.4" y1="220.8" x2="485.9" y2="220.8" stroke="#333" stroke-width="0.6"/>
<text x="484.6" y="223.2" class="tk" text-anchor="end">1.5</text>
<line x1="484.4" y1="253.6" x2="485.9" y2="253.6" stroke="#333" stroke-width="0.6"/>
<text x="484.6" y="256.0" class="tk" text-anchor="end">1.0</text>
<line x1="484.4" y1="286.5" x2="485.9" y2="286.5" stroke="#333" stroke-width="0.6"/>
<text x="484.6" y="288.9" class="tk" text-anchor="end">0.5</text>
<text x="491.2" y="188.9" class="pt">P-continuous=0.101</text>
<text x="491.2" y="199.4" class="pt">P-categorical=0.012</text>
<text x="491.2" y="209.9" class="pt">P-non-linear=0.168</text>
<text x="527.4" y="262.5" class="pt">NAR=10.026</text>
<text x="554.6" y="318.9" class="pt" style="font-size:8.9px">NAR (Model 1)</text>
<text transform="translate(473.2,240.5) rotate(-90)" class="yl" text-anchor="middle">OR (95%CI)</text>
<path d="M40.50,340.80L42.58,346.21L44.66,351.54L46.74,356.71L48.83,361.64L50.91,366.28L52.99,370.67L55.07,374.90L57.15,378.99L59.23,382.94L61.31,386.72L63.39,390.29L65.47,393.62L67.56,396.74L69.64,399.69L71.72,402.52L73.80,405.26L75.88,407.92L77.96,410.49L80.04,412.95L82.12,415.30L84.21,417.52L86.29,419.59L88.37,421.50L90.45,423.21L92.53,424.73L94.61,426.08L96.69,427.30L98.77,428.40L100.86,429.42L102.94,430.38L105.02,431.30L107.10,432.20L109.14,432.94L111.18,433.66L113.22,434.33L115.26,434.92L117.29,435.42L119.33,435.81L121.37,436.05L123.41,436.15L125.45,436.13L127.49,436.01L129.53,435.80L131.57,435.53L133.61,435.21L135.65,434.86L137.68,434.51L139.72,434.15L141.76,433.81L143.80,433.47L145.84,433.15L147.88,432.84L149.92,432.55L151.96,432.28L154.00,432.03L156.04,431.79L158.07,431.58L160.11,431.39L162.15,431.22L164.19,431.07L166.23,430.93L168.27,430.80L170.31,430.69L172.35,430.58L174.39,430.48L176.43,430.39L178.46,430.30L180.50,430.22L182.54,430.13L184.58,430.05L186.62,429.96L188.66,429.86L190.70,429.76L192.74,429.66L194.78,429.54L196.82,429.42L198.85,429.30L200.89,429.16L202.93,429.03L204.97,428.88L207.01,428.74L209.05,428.58L211.09,428.43L213.13,428.27L215.17,428.11L217.21,427.94L219.24,427.78L221.28,427.61L223.32,427.44L225.36,427.27L227.40,427.10L227.4,453.8L225.36,453.78L223.32,453.75L221.28,453.73L219.24,453.70L217.21,453.68L215.17,453.66L213.13,453.63L211.09,453.61L209.05,453.59L207.01,453.57L204.97,453.55L202.93,453.52L200.89,453.50L198.85,453.48L196.82,453.46L194.78,453.45L192.74,453.43L190.70,453.41L188.66,453.39L186.62,453.38L184.58,453.36L182.54,453.33L180.50,453.30L178.46,453.26L176.43,453.21L174.39,453.14L172.35,453.06L170.31,452.97L168.27,452.85L166.23,452.71L164.19,452.56L162.15,452.37L160.11,452.16L158.07,451.92L156.04,451.65L154.00,451.34L151.96,451.00L149.92,450.63L147.88,450.22L145.84,449.78L143.80,449.30L141.76,448.79L139.72,448.25L137.68,447.67L135.65,447.06L133.61,446.41L131.57,445.71L129.53,444.96L127.49,444.15L125.45,443.27L123.41,442.32L121.37,441.29L119.33,440.18L117.29,438.98L115.26,437.71L113.22,436.38L111.18,435.01L109.14,433.61L107.10,432.20L105.02,432.53L102.94,432.85L100.86,433.18L98.77,433.49L96.69,433.81L94.61,434.11L92.53,434.42L90.45,434.72L88.37,435.01L86.29,435.31L84.21,435.59L82.12,435.87L80.04,436.15L77.96,436.42L75.88,436.69L73.80,436.95L71.72,437.21L69.64,437.46L67.56,437.71L65.47,437.96L63.39,438.20L61.31,438.44L59.23,438.67L57.15,438.90L55.07,439.13L52.99,439.35L50.91,439.57L48.83,439.79L46.74,440.00L44.66,440.20L42.58,440.40L40.50,440.60Z" fill="#FDD5EE"/>
<line x1="107.1" y1="335.9" x2="107.1" y2="459.0" class="dash"/>
<line x1="31.4" y1="432.2" x2="236.5" y2="432.2" class="dash"/>
<path d="M40.50,415.10L42.53,415.54L44.56,415.99L46.59,416.43L48.63,416.86L50.66,417.30L52.69,417.73L54.72,418.15L56.75,418.57L58.78,418.98L60.82,419.40L62.85,419.82L64.88,420.25L66.91,420.69L68.94,421.15L70.97,421.63L73.00,422.11L75.04,422.61L77.07,423.12L79.10,423.63L81.13,424.15L83.16,424.67L85.19,425.19L87.22,425.71L89.26,426.23L91.29,426.74L93.32,427.27L95.35,427.83L97.38,428.44L99.41,429.10L101.45,429.84L103.48,430.64L105.51,431.49L107.54,432.38L109.57,433.30L111.60,434.23L113.63,435.16L115.67,436.08L117.70,436.98L119.73,437.86L121.76,438.69L123.79,439.49L125.82,440.26L127.86,440.99L129.89,441.69L131.92,442.37L133.95,443.02L135.98,443.65L138.01,444.26L140.04,444.86L142.08,445.43L144.11,445.98L146.14,446.51L148.17,447.01L150.20,447.49L152.23,447.93L154.27,448.35L156.30,448.73L158.33,449.07L160.36,449.39L162.39,449.68L164.42,449.94L166.45,450.19L168.49,450.41L170.52,450.61L172.55,450.80L174.58,450.98L176.61,451.14L178.64,451.30L180.68,451.44L182.71,451.58L184.74,451.70L186.77,451.82L188.80,451.93L190.83,452.04L192.86,452.14L194.90,452.23L196.93,452.32L198.96,452.40L200.99,452.47L203.02,452.55L205.05,452.62L207.08,452.68L209.12,452.74L211.15,452.80L213.18,452.86L215.21,452.91L217.24,452.96L219.27,453.01L221.31,453.06L223.34,453.11L225.37,453.15L227.40,453.20" class="curve"/>
<path d="M31.4,335.9V459.0H236.5" fill="none" stroke="#6b7073" stroke-width="1.4"/>
<line x1="33.7" y1="459.0" x2="33.7" y2="460.5" stroke="#6b7073" stroke-width="0.6"/>
<text x="33.7" y="465.7" class="tk" text-anchor="middle">2</text>
<line x1="78.7" y1="459.0" x2="78.7" y2="460.5" stroke="#6b7073" stroke-width="0.6"/>
<text x="78.7" y="465.7" class="tk" text-anchor="middle">4</text>
<line x1="124.2" y1="459.0" x2="124.2" y2="460.5" stroke="#6b7073" stroke-width="0.6"/>
<text x="124.2" y="465.7" class="tk" text-anchor="middle">6</text>
<line x1="169.4" y1="459.0" x2="169.4" y2="460.5" stroke="#6b7073" stroke-width="0.6"/>
<text x="169.4" y="465.7" class="tk" text-anchor="middle">8</text>
<line x1="214.3" y1="459.0" x2="214.3" y2="460.5" stroke="#6b7073" stroke-width="0.6"/>
<text x="214.3" y="465.7" class="tk" text-anchor="middle">10</text>
<line x1="29.9" y1="346.9" x2="31.4" y2="346.9" stroke="#6b7073" stroke-width="0.6"/>
<text x="30.1" y="349.3" class="tk" text-anchor="end">5</text>
<line x1="29.9" y1="367.9" x2="31.4" y2="367.9" stroke="#6b7073" stroke-width="0.6"/>
<text x="30.1" y="370.3" class="tk" text-anchor="end">4</text>
<line x1="29.9" y1="389.0" x2="31.4" y2="389.0" stroke="#6b7073" stroke-width="0.6"/>
<text x="30.1" y="391.4" class="tk" text-anchor="end">3</text>
<line x1="29.9" y1="410.8" x2="31.4" y2="410.8" stroke="#6b7073" stroke-width="0.6"/>
<text x="30.1" y="413.2" class="tk" text-anchor="end">2</text>
<line x1="29.9" y1="432.2" x2="31.4" y2="432.2" stroke="#6b7073" stroke-width="0.6"/>
<text x="30.1" y="434.6" class="tk" text-anchor="end">1</text>
<line x1="29.9" y1="453.8" x2="31.4" y2="453.8" stroke="#6b7073" stroke-width="0.6"/>
<text x="30.1" y="456.2" class="tk" text-anchor="end">0</text>
<text x="34.9" y="341.6" class="pt">P-continuous=0.003</text>
<text x="34.9" y="352.2" class="pt">P-categorical=0.005</text>
<text x="34.9" y="362.7" class="pt">P-non-linear=0.279</text>
<text x="107.9" y="438.9" class="pt">PAR=5.251</text>
<text x="106.2" y="472.2" class="pt" style="font-size:8.9px">PAR (Model 1)</text>
<text transform="translate(24.8,393.4) rotate(-90)" class="yl" text-anchor="middle">OR (95%CI)</text>
<path d="M271.00,342.50L273.16,350.61L275.33,358.23L277.49,365.05L279.66,371.16L281.82,376.66L283.99,381.70L286.15,386.37L288.31,390.73L290.48,394.81L292.64,398.64L294.81,402.26L296.97,405.73L299.14,409.09L301.30,412.40L303.35,408.21L305.39,404.09L307.44,400.10L309.49,396.33L311.53,392.83L313.58,389.63L315.63,386.74L317.67,384.17L319.72,381.90L321.77,379.95L323.81,378.26L325.86,376.83L327.91,375.60L329.95,374.57L332.00,373.70L334.05,372.98L336.09,372.39L338.14,371.91L340.19,371.53L342.23,371.22L344.28,370.96L346.33,370.74L348.37,370.55L350.42,370.38L352.47,370.22L354.51,370.08L356.56,369.93L358.61,369.79L360.65,369.64L362.70,369.47L364.75,369.30L366.79,369.12L368.84,368.92L370.89,368.72L372.93,368.51L374.98,368.30L377.03,368.07L379.07,367.84L381.12,367.61L383.17,367.37L385.21,367.12L387.26,366.87L389.31,366.62L391.35,366.36L393.40,366.10L395.45,365.84L397.49,365.58L399.54,365.31L401.59,365.04L403.63,364.76L405.68,364.48L407.73,364.19L409.77,363.89L411.82,363.59L413.87,363.27L415.91,362.95L417.96,362.62L420.01,362.28L422.05,361.92L424.10,361.55L426.15,361.17L428.19,360.78L430.24,360.37L432.29,359.95L434.33,359.52L436.38,359.08L438.43,358.63L440.47,358.17L442.52,357.70L444.57,357.23L446.61,356.75L448.66,356.26L450.71,355.78L452.75,355.29L454.80,354.80L454.8,430.1L452.75,430.07L450.71,430.04L448.66,430.01L446.61,429.98L444.57,429.95L442.52,429.92L440.47,429.90L438.43,429.87L436.38,429.85L434.33,429.82L432.29,429.81L430.24,429.79L428.19,429.77L426.15,429.76L424.10,429.75L422.05,429.74L420.01,429.74L417.96,429.74L415.91,429.74L413.87,429.75L411.82,429.76L409.77,429.78L407.73,429.80L405.68,429.82L403.63,429.85L401.59,429.89L399.54,429.93L397.49,429.97L395.45,430.02L393.40,430.08L391.35,430.14L389.31,430.21L387.26,430.28L385.21,430.36L383.17,430.43L381.12,430.51L379.07,430.58L377.03,430.66L374.98,430.73L372.93,430.79L370.89,430.85L368.84,430.90L366.79,430.94L364.75,430.97L362.70,430.99L360.65,431.00L358.61,430.99L356.56,430.97L354.51,430.93L352.47,430.89L350.42,430.83L348.37,430.76L346.33,430.68L344.28,430.59L342.23,430.49L340.19,430.37L338.14,430.20L336.09,430.00L334.05,429.73L332.00,429.39L329.95,428.97L327.91,428.46L325.86,427.84L323.81,427.12L321.77,426.29L319.72,425.36L317.67,424.32L315.63,423.17L313.58,421.92L311.53,420.56L309.49,419.08L307.44,417.50L305.39,415.85L303.35,414.14L301.30,412.40L299.14,415.55L296.97,418.67L294.81,421.77L292.64,424.84L290.48,427.90L288.31,430.94L286.15,433.93L283.99,436.85L281.82,439.70L279.66,442.50L277.49,445.26L275.33,447.96L273.16,450.61L271.00,453.20Z" fill="#FDD5EE"/>
<line x1="301.3" y1="335.2" x2="301.3" y2="459.0" class="dash"/>
<line x1="261.9" y1="412.4" x2="465.0" y2="412.4" class="dash"/>
<path d="M271.00,419.60L273.04,419.01L275.08,418.43L277.13,417.86L279.17,417.30L281.21,416.77L283.25,416.26L285.30,415.79L287.34,415.34L289.38,414.91L291.42,414.49L293.46,414.07L295.51,413.64L297.55,413.20L299.59,412.74L301.63,412.24L303.68,411.71L305.72,411.17L307.76,410.64L309.80,410.14L311.84,409.69L313.89,409.31L315.93,408.97L317.97,408.67L320.01,408.41L322.06,408.19L324.10,407.99L326.14,407.81L328.18,407.64L330.22,407.49L332.27,407.34L334.31,407.19L336.35,407.05L338.39,406.92L340.44,406.79L342.48,406.66L344.52,406.53L346.56,406.40L348.60,406.27L350.65,406.14L352.69,406.01L354.73,405.89L356.77,405.77L358.82,405.66L360.86,405.57L362.90,405.48L364.94,405.40L366.98,405.33L369.03,405.26L371.07,405.20L373.11,405.15L375.15,405.10L377.20,405.05L379.24,405.01L381.28,404.97L383.32,404.92L385.36,404.88L387.41,404.83L389.45,404.78L391.49,404.73L393.53,404.67L395.58,404.61L397.62,404.54L399.66,404.46L401.70,404.38L403.74,404.30L405.79,404.21L407.83,404.12L409.87,404.02L411.91,403.92L413.96,403.82L416.00,403.71L418.04,403.60L420.08,403.48L422.12,403.36L424.17,403.24L426.21,403.12L428.25,402.99L430.29,402.86L432.34,402.73L434.38,402.60L436.42,402.46L438.46,402.33L440.50,402.19L442.55,402.05L444.59,401.91L446.63,401.77L448.67,401.63L450.72,401.49L452.76,401.34L454.80,401.20" class="curve"/>
<path d="M261.9,335.2V459.0H465.0" fill="none" stroke="#333" stroke-width="1.0"/>
<line x1="328.5" y1="459.0" x2="328.5" y2="460.5" stroke="#333" stroke-width="0.6"/>
<text x="328.5" y="464.8" class="tk" text-anchor="middle">5</text>
<line x1="403.4" y1="459.0" x2="403.4" y2="460.5" stroke="#333" stroke-width="0.6"/>
<text x="403.4" y="464.8" class="tk" text-anchor="middle">10</text>
<line x1="260.4" y1="345.7" x2="261.9" y2="345.7" stroke="#333" stroke-width="0.6"/>
<text x="260.6" y="348.1" class="tk" text-anchor="end">2.0</text>
<line x1="260.4" y1="379.3" x2="261.9" y2="379.3" stroke="#333" stroke-width="0.6"/>
<text x="260.6" y="381.7" class="tk" text-anchor="end">1.5</text>
<line x1="260.4" y1="412.6" x2="261.9" y2="412.6" stroke="#333" stroke-width="0.6"/>
<text x="260.6" y="415.0" class="tk" text-anchor="end">1.0</text>
<line x1="260.4" y1="446.2" x2="261.9" y2="446.2" stroke="#333" stroke-width="0.6"/>
<text x="260.6" y="448.6" class="tk" text-anchor="end">0.5</text>
<text x="267.2" y="341.3" class="pt">P-continuous=0.468</text>
<text x="267.2" y="351.8" class="pt">P-categorical=0.571</text>
<text x="267.2" y="362.3" class="pt">P-non-linear=0.844</text>
<text x="302.2" y="419.6" class="pt">NHR=3.167</text>
<text x="332.9" y="471.3" class="pt" style="font-size:8.9px">NHR (Model 1)</text>
<text transform="translate(252.3,393.8) rotate(-90)" class="yl" text-anchor="middle">OR (95%CI)</text>
<path d="M494.50,365.00L496.69,368.49L498.89,371.91L501.08,375.26L503.27,378.52L505.46,381.73L507.66,384.90L509.85,387.97L512.04,390.89L514.24,393.64L516.43,396.30L518.62,398.87L520.81,401.34L523.01,403.68L525.20,405.90L527.25,401.95L529.31,397.98L531.36,393.99L533.42,389.97L535.47,386.01L537.53,382.18L539.58,378.55L541.63,375.19L543.69,372.15L545.74,369.45L547.80,367.07L549.85,365.02L551.90,363.29L553.96,361.87L556.01,360.76L558.07,359.90L560.12,359.26L562.18,358.77L564.23,358.39L566.28,358.09L568.34,357.84L570.39,357.64L572.45,357.48L574.50,357.35L576.55,357.24L578.61,357.14L580.66,357.04L582.72,356.93L584.77,356.80L586.83,356.65L588.88,356.47L590.93,356.27L592.99,356.04L595.04,355.79L597.10,355.52L599.15,355.22L601.20,354.91L603.26,354.59L605.31,354.25L607.37,353.90L609.42,353.53L611.48,353.16L613.53,352.78L615.58,352.39L617.64,352.00L619.69,351.60L621.75,351.21L623.80,350.81L625.85,350.41L627.91,350.01L629.96,349.61L632.02,349.21L634.07,348.81L636.12,348.41L638.18,348.00L640.23,347.60L642.29,347.20L644.34,346.79L646.40,346.39L648.45,345.98L650.50,345.58L652.56,345.17L654.61,344.77L656.67,344.36L658.72,343.95L660.77,343.55L662.83,343.14L664.88,342.73L666.94,342.32L668.99,341.92L671.05,341.51L673.10,341.10L673.1,412.1L671.05,412.10L668.99,412.10L666.94,412.10L664.88,412.10L662.83,412.10L660.77,412.10L658.72,412.11L656.67,412.12L654.61,412.13L652.56,412.14L650.50,412.15L648.45,412.17L646.40,412.19L644.34,412.22L642.29,412.25L640.23,412.28L638.18,412.32L636.12,412.36L634.07,412.41L632.02,412.46L629.96,412.52L627.91,412.58L625.85,412.65L623.80,412.73L621.75,412.81L619.69,412.90L617.64,413.00L615.58,413.11L613.53,413.22L611.48,413.34L609.42,413.46L607.37,413.58L605.31,413.71L603.26,413.83L601.20,413.96L599.15,414.08L597.10,414.20L595.04,414.32L592.99,414.42L590.93,414.53L588.88,414.62L586.83,414.71L584.77,414.78L582.72,414.84L580.66,414.89L578.61,414.93L576.55,414.94L574.50,414.95L572.45,414.93L570.39,414.90L568.34,414.84L566.28,414.77L564.23,414.67L562.18,414.54L560.12,414.39L558.07,414.20L556.01,413.98L553.96,413.71L551.90,413.39L549.85,413.03L547.80,412.61L545.74,412.14L543.69,411.61L541.63,411.04L539.58,410.44L537.53,409.81L535.47,409.17L533.42,408.52L531.36,407.87L529.31,407.22L527.25,406.56L525.20,405.90L523.01,410.02L520.81,414.05L518.62,418.00L516.43,421.86L514.24,425.63L512.04,429.34L509.85,433.03L507.66,436.65L505.46,440.04L503.27,443.11L501.08,445.93L498.89,448.58L496.69,451.01L494.50,453.20Z" fill="#FDD5EE"/>
<line x1="525.2" y1="335.5" x2="525.2" y2="459.0" class="dash"/>
<line x1="486.3" y1="405.9" x2="681.5" y2="405.9" class="dash"/>
<path d="M494.50,428.40L496.53,426.77L498.56,425.15L500.59,423.53L502.62,421.92L504.65,420.33L506.68,418.75L508.71,417.21L510.74,415.69L512.77,414.22L514.80,412.79L516.83,411.40L518.85,410.04L520.88,408.69L522.91,407.35L524.94,406.01L526.97,404.66L529.00,403.32L531.03,401.99L533.06,400.68L535.09,399.43L537.12,398.23L539.15,397.10L541.18,396.04L543.21,395.07L545.24,394.18L547.27,393.38L549.30,392.67L551.33,392.05L553.36,391.51L555.39,391.04L557.42,390.63L559.45,390.27L561.48,389.96L563.50,389.70L565.53,389.47L567.56,389.27L569.59,389.10L571.62,388.96L573.65,388.83L575.68,388.73L577.71,388.63L579.74,388.53L581.77,388.45L583.80,388.35L585.83,388.26L587.86,388.15L589.89,388.04L591.92,387.91L593.95,387.79L595.98,387.65L598.01,387.51L600.04,387.37L602.07,387.22L604.10,387.08L606.12,386.92L608.15,386.77L610.18,386.62L612.21,386.47L614.24,386.32L616.27,386.18L618.30,386.03L620.33,385.89L622.36,385.76L624.39,385.63L626.42,385.50L628.45,385.38L630.48,385.26L632.51,385.15L634.54,385.04L636.57,384.93L638.60,384.83L640.63,384.73L642.66,384.63L644.69,384.54L646.72,384.45L648.75,384.36L650.77,384.27L652.80,384.18L654.83,384.10L656.86,384.02L658.89,383.94L660.92,383.86L662.95,383.78L664.98,383.70L667.01,383.63L669.04,383.55L671.07,383.48L673.10,383.40" class="curve"/>
<path d="M486.3,335.5V459.0H681.5" fill="none" stroke="#333" stroke-width="1.0"/>
<line x1="524.0" y1="459.0" x2="524.0" y2="460.5" stroke="#333" stroke-width="0.6"/>
<text x="524.0" y="464.8" class="tk" text-anchor="middle">10</text>
<line x1="584.6" y1="459.0" x2="584.6" y2="460.5" stroke="#333" stroke-width="0.6"/>
<text x="584.6" y="464.8" class="tk" text-anchor="middle">20</text>
<line x1="643.5" y1="459.0" x2="643.5" y2="460.5" stroke="#333" stroke-width="0.6"/>
<text x="643.5" y="464.8" class="tk" text-anchor="middle">30</text>
<line x1="484.8" y1="342.5" x2="486.3" y2="342.5" stroke="#333" stroke-width="0.6"/>
<text x="485.0" y="344.9" class="tk" text-anchor="end">2.0</text>
<line x1="484.8" y1="374.4" x2="486.3" y2="374.4" stroke="#333" stroke-width="0.6"/>
<text x="485.0" y="376.8" class="tk" text-anchor="end">1.5</text>
<line x1="484.8" y1="405.9" x2="486.3" y2="405.9" stroke="#333" stroke-width="0.6"/>
<text x="485.0" y="408.3" class="tk" text-anchor="end">1.0</text>
<line x1="484.8" y1="438.0" x2="486.3" y2="438.0" stroke="#333" stroke-width="0.6"/>
<text x="485.0" y="440.4" class="tk" text-anchor="end">0.5</text>
<text x="491.2" y="341.3" class="pt">P-continuous=0.213</text>
<text x="491.2" y="351.8" class="pt">P-categorical=0.17</text>
<text x="491.2" y="362.3" class="pt">P-non-linear=0.404</text>
<text x="527.4" y="414.3" class="pt">NAR=10.026</text>
<text x="554.6" y="471.3" class="pt" style="font-size:8.9px">NAR (Model 1)</text>
<text transform="translate(473.2,393.4) rotate(-90)" class="yl" text-anchor="middle">OR (95%CI)</text>
<path d="M40.50,494.00L42.59,497.18L44.67,500.34L46.76,503.46L48.85,506.50L50.94,509.47L53.02,512.35L55.11,515.14L57.20,517.81L59.29,520.37L61.38,522.80L63.46,525.11L65.55,527.30L67.64,529.39L69.72,531.45L71.81,533.52L73.90,535.64L75.99,537.88L78.07,540.28L80.16,542.87L82.25,545.61L84.34,548.36L86.42,551.00L88.51,553.53L90.60,556.04L92.69,558.64L94.78,561.42L96.86,564.43L98.95,567.64L101.04,571.04L103.12,574.60L105.21,578.27L107.30,582.00L109.34,582.84L111.37,583.64L113.41,584.37L115.44,584.99L117.48,585.49L119.51,585.88L121.55,586.18L123.58,586.41L125.62,586.59L127.66,586.74L129.69,586.85L131.73,586.94L133.76,587.01L135.80,587.07L137.83,587.11L139.87,587.14L141.91,587.17L143.94,587.20L145.98,587.24L148.01,587.28L150.05,587.34L152.08,587.41L154.12,587.51L156.15,587.62L158.19,587.75L160.23,587.90L162.26,588.06L164.30,588.23L166.33,588.40L168.37,588.59L170.40,588.77L172.44,588.96L174.47,589.15L176.51,589.33L178.55,589.51L180.58,589.68L182.62,589.85L184.65,590.02L186.69,590.19L188.72,590.35L190.76,590.50L192.79,590.66L194.83,590.81L196.87,590.96L198.90,591.11L200.94,591.25L202.97,591.40L205.01,591.54L207.04,591.67L209.08,591.81L211.12,591.95L213.15,592.08L215.19,592.22L217.22,592.35L219.26,592.48L221.29,592.61L223.33,592.74L225.36,592.87L227.40,593.00L227.4,607.0L225.36,607.01L223.33,607.01L221.29,607.02L219.26,607.03L217.22,607.04L215.19,607.04L213.15,607.05L211.12,607.06L209.08,607.07L207.04,607.08L205.01,607.09L202.97,607.10L200.94,607.12L198.90,607.13L196.87,607.14L194.83,607.16L192.79,607.18L190.76,607.19L188.72,607.21L186.69,607.23L184.65,607.25L182.62,607.27L180.58,607.29L178.55,607.31L176.51,607.32L174.47,607.33L172.44,607.33L170.40,607.33L168.37,607.33L166.33,607.31L164.30,607.29L162.26,607.26L160.23,607.22L158.19,607.17L156.15,607.11L154.12,607.04L152.08,606.96L150.05,606.86L148.01,606.73L145.98,606.58L143.94,606.39L141.91,606.17L139.87,605.89L137.83,605.54L135.80,605.11L133.76,604.55L131.73,603.86L129.69,603.01L127.66,601.98L125.62,600.76L123.58,599.36L121.55,597.76L119.51,595.97L117.48,593.98L115.44,591.80L113.41,589.48L111.37,587.05L109.34,584.54L107.30,582.00L105.21,582.16L103.12,582.31L101.04,582.46L98.95,582.59L96.86,582.71L94.78,582.83L92.69,582.95L90.60,583.07L88.51,583.21L86.42,583.37L84.34,583.57L82.25,583.82L80.16,584.14L78.07,584.54L75.99,585.06L73.90,585.69L71.81,586.42L69.72,587.24L67.64,588.13L65.55,589.07L63.46,590.03L61.38,591.00L59.29,591.97L57.20,592.93L55.11,593.85L53.02,594.73L50.94,595.56L48.85,596.33L46.76,597.06L44.67,597.76L42.59,598.43L40.50,599.10Z" fill="#FDD5EE"/>
<line x1="107.3" y1="487.9" x2="107.3" y2="611.9" class="dash"/>
<line x1="31.4" y1="582.0" x2="236.5" y2="582.0" class="dash"/>
<path d="M40.50,578.10L42.53,577.51L44.56,576.91L46.59,576.31L48.63,575.70L50.66,575.08L52.69,574.47L54.72,573.87L56.75,573.27L58.78,572.70L60.82,572.15L62.85,571.63L64.88,571.14L66.91,570.68L68.94,570.26L70.97,569.87L73.00,569.52L75.04,569.26L77.07,569.08L79.10,569.03L81.13,569.13L83.16,569.38L85.19,569.79L87.22,570.37L89.26,571.13L91.29,572.05L93.32,573.08L95.35,574.19L97.38,575.36L99.41,576.57L101.45,577.86L103.48,579.21L105.51,580.65L107.54,582.13L109.57,583.65L111.60,585.20L113.63,586.77L115.67,588.35L117.70,589.94L119.73,591.53L121.76,593.10L123.79,594.60L125.82,595.99L127.86,597.27L129.89,598.43L131.92,599.48L133.95,600.43L135.98,601.28L138.01,602.04L140.04,602.71L142.08,603.31L144.11,603.84L146.14,604.30L148.17,604.70L150.20,605.05L152.23,605.35L154.27,605.61L156.30,605.82L158.33,606.00L160.36,606.15L162.39,606.28L164.42,606.38L166.45,606.47L168.49,606.54L170.52,606.59L172.55,606.64L174.58,606.67L176.61,606.69L178.64,606.71L180.68,606.72L182.71,606.72L184.74,606.72L186.77,606.71L188.80,606.71L190.83,606.70L192.86,606.70L194.90,606.69L196.93,606.69L198.96,606.69L200.99,606.69L203.02,606.68L205.05,606.68L207.08,606.68L209.12,606.68L211.15,606.68L213.18,606.69L215.21,606.69L217.24,606.69L219.27,606.69L221.31,606.69L223.34,606.70L225.37,606.70L227.40,606.70" class="curve"/>
<path d="M31.4,487.9V611.9H236.5" fill="none" stroke="#6b7073" stroke-width="1.4"/>
<line x1="33.7" y1="611.9" x2="33.7" y2="613.4" stroke="#6b7073" stroke-width="0.6"/>
<text x="33.7" y="618.6" class="tk" text-anchor="middle">2</text>
<line x1="78.7" y1="611.9" x2="78.7" y2="613.4" stroke="#6b7073" stroke-width="0.6"/>
<text x="78.7" y="618.6" class="tk" text-anchor="middle">4</text>
<line x1="124.2" y1="611.9" x2="124.2" y2="613.4" stroke="#6b7073" stroke-width="0.6"/>
<text x="124.2" y="618.6" class="tk" text-anchor="middle">6</text>
<line x1="169.4" y1="611.9" x2="169.4" y2="613.4" stroke="#6b7073" stroke-width="0.6"/>
<text x="169.4" y="618.6" class="tk" text-anchor="middle">8</text>
<line x1="214.3" y1="611.9" x2="214.3" y2="613.4" stroke="#6b7073" stroke-width="0.6"/>
<text x="214.3" y="618.6" class="tk" text-anchor="middle">10</text>
<line x1="29.9" y1="508.0" x2="31.4" y2="508.0" stroke="#6b7073" stroke-width="0.6"/>
<text x="30.1" y="510.4" class="tk" text-anchor="end">4</text>
<line x1="29.9" y1="532.6" x2="31.4" y2="532.6" stroke="#6b7073" stroke-width="0.6"/>
<text x="30.1" y="535.0" class="tk" text-anchor="end">3</text>
<line x1="29.9" y1="557.1" x2="31.4" y2="557.1" stroke="#6b7073" stroke-width="0.6"/>
<text x="30.1" y="559.5" class="tk" text-anchor="end">2</text>
<line x1="29.9" y1="582.0" x2="31.4" y2="582.0" stroke="#6b7073" stroke-width="0.6"/>
<text x="30.1" y="584.4" class="tk" text-anchor="end">1</text>
<line x1="29.9" y1="606.5" x2="31.4" y2="606.5" stroke="#6b7073" stroke-width="0.6"/>
<text x="30.1" y="608.9" class="tk" text-anchor="end">0</text>
<text x="34.9" y="494.5" class="pt">P-continuous=0.005</text>
<text x="34.9" y="505.1" class="pt">P-categorical=0.007</text>
<text x="34.9" y="515.6" class="pt">P-non-linear=0.069</text>
<text x="107.9" y="589.5" class="pt">PAR=5.251</text>
<text x="106.2" y="624.5" class="pt" style="font-size:8.9px">PAR (Model 1)</text>
<text transform="translate(24.2,546.3) rotate(-90)" class="yl" text-anchor="middle">OR (95%CI)</text>
<path d="M267.50,494.00L269.73,505.88L271.96,517.29L274.19,527.81L276.41,537.02L278.64,544.86L280.87,551.59L283.10,557.44L285.33,562.64L287.56,567.32L289.79,571.53L292.01,575.34L294.24,578.80L296.47,582.01L298.70,585.10L300.73,584.78L302.75,584.46L304.78,584.15L306.81,583.85L308.84,583.58L310.86,583.32L312.89,583.09L314.92,582.88L316.95,582.69L318.97,582.52L321.00,582.37L323.03,582.24L325.05,582.13L327.08,582.03L329.11,581.94L331.14,581.86L333.16,581.80L335.19,581.73L337.22,581.68L339.25,581.62L341.27,581.56L343.30,581.50L345.33,581.44L347.35,581.36L349.38,581.28L351.41,581.18L353.44,581.07L355.46,580.94L357.49,580.80L359.52,580.63L361.55,580.44L363.57,580.22L365.60,579.98L367.63,579.71L369.65,579.40L371.68,579.07L373.71,578.72L375.74,578.34L377.76,577.95L379.79,577.53L381.82,577.10L383.85,576.65L385.87,576.19L387.90,575.72L389.93,575.24L391.95,574.76L393.98,574.28L396.01,573.79L398.04,573.29L400.06,572.79L402.09,572.28L404.12,571.76L406.15,571.24L408.17,570.69L410.20,570.14L412.23,569.57L414.25,568.98L416.28,568.37L418.31,567.74L420.34,567.10L422.36,566.43L424.39,565.75L426.42,565.05L428.45,564.34L430.47,563.62L432.50,562.90L434.53,562.18L436.55,561.45L438.58,560.73L440.61,560.01L442.64,559.29L444.66,558.57L446.69,557.86L448.72,557.14L450.75,556.43L452.77,555.71L454.80,555.00L454.8,605.8L452.77,605.73L450.75,605.67L448.72,605.60L446.69,605.53L444.66,605.46L442.64,605.40L440.61,605.33L438.58,605.25L436.55,605.18L434.53,605.11L432.50,605.03L430.47,604.95L428.45,604.87L426.42,604.79L424.39,604.70L422.36,604.61L420.34,604.52L418.31,604.43L416.28,604.33L414.25,604.22L412.23,604.12L410.20,604.01L408.17,603.90L406.15,603.78L404.12,603.66L402.09,603.53L400.06,603.41L398.04,603.28L396.01,603.15L393.98,603.02L391.95,602.89L389.93,602.75L387.90,602.62L385.87,602.49L383.85,602.36L381.82,602.23L379.79,602.10L377.76,601.97L375.74,601.85L373.71,601.73L371.68,601.61L369.65,601.49L367.63,601.37L365.60,601.25L363.57,601.13L361.55,601.00L359.52,600.87L357.49,600.73L355.46,600.59L353.44,600.43L351.41,600.26L349.38,600.09L347.35,599.90L345.33,599.69L343.30,599.47L341.27,599.23L339.25,598.98L337.22,598.71L335.19,598.43L333.16,598.16L331.14,597.90L329.11,597.66L327.08,597.45L325.05,597.27L323.03,597.09L321.00,596.87L318.97,596.58L316.95,596.19L314.92,595.67L312.89,594.99L310.86,594.11L308.84,593.00L306.81,591.68L304.78,590.19L302.75,588.56L300.73,586.85L298.70,585.10L267.50,592.50Z" fill="#FDD5EE"/>
<line x1="298.7" y1="487.9" x2="298.7" y2="611.7" class="dash"/>
<line x1="258.4" y1="585.1" x2="465.0" y2="585.1" class="dash"/>
<path d="M267.50,565.30L269.54,567.38L271.57,569.38L273.61,571.28L275.64,573.07L277.68,574.76L279.72,576.34L281.75,577.82L283.79,579.18L285.82,580.39L287.86,581.45L289.89,582.36L291.93,583.12L293.97,583.80L296.00,584.43L298.04,585.08L300.07,585.78L302.11,586.53L304.15,587.31L306.18,588.07L308.22,588.80L310.25,589.44L312.29,589.99L314.32,590.45L316.36,590.82L318.40,591.12L320.43,591.35L322.47,591.53L324.50,591.67L326.54,591.77L328.58,591.85L330.61,591.91L332.65,591.97L334.68,592.01L336.72,592.05L338.76,592.09L340.79,592.13L342.83,592.18L344.86,592.23L346.90,592.29L348.93,592.35L350.97,592.42L353.01,592.49L355.04,592.57L357.08,592.65L359.11,592.73L361.15,592.81L363.19,592.90L365.22,592.99L367.26,593.08L369.29,593.17L371.33,593.26L373.37,593.36L375.40,593.45L377.44,593.55L379.47,593.64L381.51,593.73L383.54,593.82L385.58,593.91L387.62,594.00L389.65,594.08L391.69,594.16L393.72,594.24L395.76,594.32L397.80,594.39L399.83,594.46L401.87,594.53L403.90,594.59L405.94,594.65L407.98,594.71L410.01,594.77L412.05,594.82L414.08,594.87L416.12,594.92L418.15,594.97L420.19,595.01L422.23,595.06L424.26,595.10L426.30,595.14L428.33,595.18L430.37,595.22L432.41,595.25L434.44,595.29L436.48,595.32L438.51,595.36L440.55,595.39L442.58,595.42L444.62,595.45L446.66,595.48L448.69,595.51L450.73,595.54L452.76,595.57L454.80,595.60" class="curve"/>
<path d="M258.4,487.9V611.7H465.0" fill="none" stroke="#6b7073" stroke-width="1.4"/>
<line x1="325.8" y1="611.7" x2="325.8" y2="613.2" stroke="#6b7073" stroke-width="0.6"/>
<text x="325.8" y="618.1" class="tk" text-anchor="middle">5</text>
<line x1="402.7" y1="611.7" x2="402.7" y2="613.2" stroke="#6b7073" stroke-width="0.6"/>
<text x="402.7" y="618.1" class="tk" text-anchor="middle">10</text>
<line x1="256.9" y1="510.7" x2="258.4" y2="510.7" stroke="#6b7073" stroke-width="0.6"/>
<text x="257.1" y="513.1" class="tk" text-anchor="end">4</text>
<line x1="256.9" y1="535.7" x2="258.4" y2="535.7" stroke="#6b7073" stroke-width="0.6"/>
<text x="257.1" y="538.1" class="tk" text-anchor="end">3</text>
<line x1="256.9" y1="560.6" x2="258.4" y2="560.6" stroke="#6b7073" stroke-width="0.6"/>
<text x="257.1" y="563.0" class="tk" text-anchor="end">2</text>
<line x1="256.9" y1="585.1" x2="258.4" y2="585.1" stroke="#6b7073" stroke-width="0.6"/>
<text x="257.1" y="587.5" class="tk" text-anchor="end">1</text>
<line x1="256.9" y1="610.0" x2="258.4" y2="610.0" stroke="#6b7073" stroke-width="0.6"/>
<text x="257.1" y="612.4" class="tk" text-anchor="end">0</text>
<text x="263.3" y="494.0" class="pt">P-continuous=0.357</text>
<text x="263.3" y="504.5" class="pt">P-categorical=0.359</text>
<text x="263.3" y="515.0" class="pt">P-non-linear=0.346</text>
<text x="299.6" y="592.5" class="pt">NHR=3.167</text>
<text x="332.0" y="624.0" class="pt" style="font-size:8.9px">NHR (Model 1)</text>
<text transform="translate(252.7,545.7) rotate(-90)" class="yl" text-anchor="middle">OR (95%CI)</text>
<path d="M491.20,496.60L493.41,511.26L495.63,524.64L497.84,536.06L500.06,545.69L502.27,553.80L504.49,560.61L506.70,566.38L508.91,571.32L511.13,575.61L513.34,579.37L515.56,582.73L517.77,585.79L519.99,588.65L522.20,591.40L524.24,591.60L526.28,591.79L528.32,591.95L530.36,592.06L532.40,592.12L534.44,592.13L536.47,592.11L538.51,592.04L540.55,591.95L542.59,591.84L544.63,591.71L546.67,591.58L548.71,591.45L550.75,591.32L552.79,591.19L554.83,591.06L556.87,590.93L558.91,590.80L560.94,590.67L562.98,590.54L565.02,590.40L567.06,590.26L569.10,590.11L571.14,589.95L573.18,589.79L575.22,589.61L577.26,589.43L579.30,589.23L581.34,589.01L583.38,588.78L585.41,588.53L587.45,588.26L589.49,587.97L591.53,587.66L593.57,587.33L595.61,586.97L597.65,586.59L599.69,586.18L601.73,585.75L603.77,585.30L605.81,584.82L607.85,584.32L609.89,583.80L611.92,583.25L613.96,582.68L616.00,582.08L618.04,581.46L620.08,580.81L622.12,580.15L624.16,579.46L626.20,578.75L628.24,578.02L630.28,577.27L632.32,576.51L634.36,575.74L636.39,574.95L638.43,574.15L640.47,573.34L642.51,572.52L644.55,571.70L646.59,570.87L648.63,570.03L650.67,569.19L652.71,568.34L654.75,567.49L656.79,566.63L658.83,565.77L660.86,564.91L662.90,564.05L664.94,563.18L666.98,562.31L669.02,561.44L671.06,560.57L673.10,559.70L673.1,606.5L671.06,606.44L669.02,606.39L666.98,606.33L664.94,606.27L662.90,606.21L660.86,606.15L658.83,606.09L656.79,606.03L654.75,605.97L652.71,605.91L650.67,605.84L648.63,605.77L646.59,605.70L644.55,605.63L642.51,605.56L640.47,605.48L638.43,605.40L636.39,605.32L634.36,605.23L632.32,605.14L630.28,605.05L628.24,604.96L626.20,604.86L624.16,604.76L622.12,604.65L620.08,604.54L618.04,604.42L616.00,604.30L613.96,604.18L611.92,604.05L609.89,603.92L607.85,603.79L605.81,603.66L603.77,603.52L601.73,603.39L599.69,603.25L597.65,603.12L595.61,602.98L593.57,602.85L591.53,602.72L589.49,602.59L587.45,602.47L585.41,602.35L583.38,602.24L581.34,602.13L579.30,602.03L577.26,601.93L575.22,601.84L573.18,601.76L571.14,601.68L569.10,601.62L567.06,601.56L565.02,601.52L562.98,601.48L560.94,601.45L558.91,601.41L556.87,601.37L554.83,601.32L552.79,601.24L550.75,601.14L548.71,601.01L546.67,600.84L544.63,600.62L542.59,600.33L540.55,599.97L538.51,599.52L536.47,598.96L534.44,598.28L532.40,597.46L530.36,596.50L528.32,595.37L526.28,594.12L524.24,592.78L522.20,591.40L491.20,591.40Z" fill="#FDD5EE"/>
<line x1="522.2" y1="488.8" x2="522.2" y2="612.3" class="dash"/>
<line x1="482.4" y1="591.4" x2="681.5" y2="591.4" class="dash"/>
<path d="M491.20,565.80L493.24,568.47L495.29,571.10L497.33,573.64L499.38,576.05L501.42,578.30L503.46,580.35L505.51,582.22L507.55,583.92L509.59,585.43L511.64,586.78L513.68,587.96L515.73,589.01L517.77,589.91L519.81,590.70L521.86,591.41L523.90,592.08L525.94,592.72L527.99,593.31L530.03,593.85L532.08,594.33L534.12,594.76L536.16,595.14L538.21,595.47L540.25,595.75L542.30,596.00L544.34,596.22L546.38,596.40L548.43,596.57L550.47,596.71L552.51,596.84L554.56,596.96L556.60,597.06L558.65,597.15L560.69,597.24L562.73,597.32L564.78,597.40L566.82,597.48L568.87,597.56L570.91,597.65L572.95,597.73L575.00,597.82L577.04,597.90L579.08,597.99L581.13,598.08L583.17,598.16L585.22,598.25L587.26,598.34L589.30,598.43L591.35,598.51L593.39,598.60L595.43,598.68L597.48,598.77L599.52,598.85L601.57,598.93L603.61,599.01L605.65,599.09L607.70,599.16L609.74,599.24L611.79,599.31L613.83,599.38L615.87,599.45L617.92,599.51L619.96,599.57L622.00,599.63L624.05,599.68L626.09,599.74L628.14,599.79L630.18,599.84L632.22,599.88L634.27,599.93L636.31,599.97L638.36,600.01L640.40,600.05L642.44,600.08L644.49,600.12L646.53,600.15L648.57,600.18L650.62,600.21L652.66,600.24L654.71,600.27L656.75,600.30L658.79,600.33L660.84,600.35L662.88,600.38L664.92,600.40L666.97,600.43L669.01,600.45L671.06,600.48L673.10,600.50" class="curve"/>
<path d="M482.4,488.8V612.3H681.5" fill="none" stroke="#6b7073" stroke-width="1.4"/>
<line x1="523.9" y1="612.3" x2="523.9" y2="613.8" stroke="#6b7073" stroke-width="0.6"/>
<text x="523.9" y="618.6" class="tk" text-anchor="middle">10</text>
<line x1="584.6" y1="612.3" x2="584.6" y2="613.8" stroke="#6b7073" stroke-width="0.6"/>
<text x="584.6" y="618.6" class="tk" text-anchor="middle">20</text>
<line x1="643.5" y1="612.3" x2="643.5" y2="613.8" stroke="#6b7073" stroke-width="0.6"/>
<text x="643.5" y="618.6" class="tk" text-anchor="middle">30</text>
<line x1="480.9" y1="508.9" x2="482.4" y2="508.9" stroke="#6b7073" stroke-width="0.6"/>
<text x="481.1" y="511.3" class="tk" text-anchor="end">6</text>
<line x1="480.9" y1="542.2" x2="482.4" y2="542.2" stroke="#6b7073" stroke-width="0.6"/>
<text x="481.1" y="544.6" class="tk" text-anchor="end">4</text>
<line x1="480.9" y1="575.5" x2="482.4" y2="575.5" stroke="#6b7073" stroke-width="0.6"/>
<text x="481.1" y="577.9" class="tk" text-anchor="end">2</text>
<line x1="480.9" y1="608.8" x2="482.4" y2="608.8" stroke="#6b7073" stroke-width="0.6"/>
<text x="481.1" y="611.2" class="tk" text-anchor="end">0</text>
<text x="486.3" y="494.9" class="pt">P-continuous=0.152</text>
<text x="486.3" y="505.4" class="pt">P-categorical=0.051</text>
<text x="486.3" y="515.9" class="pt">P-non-linear=0.155</text>
<text x="524.0" y="599.1" class="pt">NAR=10.026</text>
<text x="554.6" y="625.1" class="pt" style="font-size:8.9px">NAR (Model 1)</text>
<text transform="translate(473.2,546.6) rotate(-90)" class="yl" text-anchor="middle">OR (95%CI)</text>
<path d="M44.00,647.30L46.12,652.21L48.24,657.16L50.36,662.19L52.48,667.31L54.60,672.46L56.72,677.50L58.84,682.38L60.95,687.06L63.07,691.53L65.19,695.79L67.31,699.85L69.43,703.70L71.55,707.32L73.67,710.70L75.79,713.84L77.91,716.77L80.03,719.53L82.15,722.14L84.27,724.62L86.39,726.96L88.51,729.17L90.63,731.24L92.75,733.18L94.86,734.98L96.98,736.66L99.10,738.21L101.22,739.65L103.34,740.98L105.46,742.22L107.58,743.38L109.70,744.50L111.74,744.24L113.78,743.99L115.82,743.74L117.87,743.49L119.91,743.26L121.95,743.03L123.99,742.82L126.03,742.63L128.07,742.44L130.11,742.27L132.16,742.11L134.20,741.95L136.24,741.79L138.28,741.63L140.32,741.46L142.36,741.28L144.40,741.10L146.44,740.91L148.49,740.72L150.53,740.53L152.57,740.33L154.61,740.14L156.65,739.95L158.69,739.77L160.73,739.59L162.78,739.41L164.82,739.23L166.86,739.06L168.90,738.88L170.94,738.71L172.98,738.54L175.02,738.37L177.07,738.20L179.11,738.03L181.15,737.86L183.19,737.69L185.23,737.52L187.27,737.34L189.31,737.17L191.36,736.99L193.40,736.81L195.44,736.63L197.48,736.44L199.52,736.25L201.56,736.06L203.60,735.87L205.64,735.68L207.69,735.49L209.73,735.29L211.77,735.10L213.81,734.90L215.85,734.70L217.89,734.50L219.93,734.30L221.98,734.10L224.02,733.90L226.06,733.70L228.10,733.50L228.1,759.7L226.06,759.58L224.02,759.46L221.98,759.34L219.93,759.22L217.89,759.10L215.85,758.99L213.81,758.87L211.77,758.75L209.73,758.64L207.69,758.52L205.64,758.41L203.60,758.30L201.56,758.19L199.52,758.08L197.48,757.97L195.44,757.87L193.40,757.77L191.36,757.67L189.31,757.57L187.27,757.47L185.23,757.37L183.19,757.27L181.15,757.16L179.11,757.05L177.07,756.92L175.02,756.77L172.98,756.61L170.94,756.43L168.90,756.23L166.86,756.00L164.82,755.75L162.78,755.46L160.73,755.14L158.69,754.79L156.65,754.40L154.61,753.97L152.57,753.50L150.53,753.01L148.49,752.51L146.44,752.02L144.40,751.55L142.36,751.12L140.32,750.74L138.28,750.43L136.24,750.18L134.20,749.95L132.16,749.75L130.11,749.53L128.07,749.28L126.03,748.98L123.99,748.61L121.95,748.17L119.91,747.66L117.87,747.09L115.82,746.48L113.78,745.84L111.74,745.18L109.70,744.50L107.58,745.23L105.46,745.95L103.34,746.64L101.22,747.30L99.10,747.92L96.98,748.49L94.86,749.05L92.75,749.59L90.63,750.10L88.51,750.61L86.39,751.10L84.27,751.58L82.15,752.05L80.03,752.51L77.91,752.97L75.79,753.42L73.67,753.87L71.55,754.32L69.43,754.77L67.31,755.21L65.19,755.65L63.07,756.08L60.95,756.50L58.84,756.93L56.72,757.34L54.60,757.75L52.48,758.15L50.36,758.55L48.24,758.94L46.12,759.32L44.00,759.70Z" fill="#FDD5EE"/>
<line x1="109.7" y1="641.7" x2="109.7" y2="765.3" class="dash"/>
<line x1="34.9" y1="744.5" x2="236.5" y2="744.5" class="dash"/>
<path d="M44.00,723.30L46.02,724.11L48.05,724.92L50.07,725.73L52.09,726.53L54.12,727.33L56.14,728.12L58.16,728.90L60.18,729.67L62.21,730.43L64.23,731.18L66.25,731.91L68.28,732.63L70.30,733.33L72.32,734.01L74.35,734.68L76.37,735.32L78.39,735.95L80.42,736.56L82.44,737.15L84.46,737.74L86.48,738.32L88.51,738.89L90.53,739.46L92.55,740.04L94.58,740.61L96.60,741.17L98.62,741.73L100.65,742.28L102.67,742.81L104.69,743.33L106.72,743.82L108.74,744.27L110.76,744.70L112.78,745.08L114.81,745.43L116.83,745.76L118.85,746.05L120.88,746.32L122.90,746.58L124.92,746.81L126.95,747.02L128.97,747.21L130.99,747.37L133.02,747.52L135.04,747.65L137.06,747.76L139.08,747.86L141.11,747.95L143.13,748.03L145.15,748.10L147.18,748.16L149.20,748.21L151.22,748.25L153.25,748.29L155.27,748.32L157.29,748.34L159.32,748.36L161.34,748.37L163.36,748.38L165.38,748.39L167.41,748.40L169.43,748.40L171.45,748.40L173.48,748.40L175.50,748.40L177.52,748.40L179.55,748.40L181.57,748.41L183.59,748.41L185.62,748.41L187.64,748.41L189.66,748.41L191.68,748.42L193.71,748.42L195.73,748.42L197.75,748.43L199.78,748.43L201.80,748.44L203.82,748.44L205.85,748.44L207.87,748.45L209.89,748.45L211.92,748.46L213.94,748.46L215.96,748.47L217.98,748.47L220.01,748.48L222.03,748.48L224.05,748.49L226.08,748.49L228.10,748.50" class="curve"/>
<path d="M34.9,641.7V765.3H236.5" fill="none" stroke="#6b7073" stroke-width="1.4"/>
<line x1="37.2" y1="765.3" x2="37.2" y2="766.8" stroke="#6b7073" stroke-width="0.6"/>
<text x="37.2" y="771.8" class="tk" text-anchor="middle">2</text>
<line x1="81.3" y1="765.3" x2="81.3" y2="766.8" stroke="#6b7073" stroke-width="0.6"/>
<text x="81.3" y="771.8" class="tk" text-anchor="middle">4</text>
<line x1="126.0" y1="765.3" x2="126.0" y2="766.8" stroke="#6b7073" stroke-width="0.6"/>
<text x="126.0" y="771.8" class="tk" text-anchor="middle">6</text>
<line x1="170.8" y1="765.3" x2="170.8" y2="766.8" stroke="#6b7073" stroke-width="0.6"/>
<text x="170.8" y="771.8" class="tk" text-anchor="middle">8</text>
<line x1="215.5" y1="765.3" x2="215.5" y2="766.8" stroke="#6b7073" stroke-width="0.6"/>
<text x="215.5" y="771.8" class="tk" text-anchor="middle">10</text>
<line x1="33.4" y1="647.6" x2="34.9" y2="647.6" stroke="#6b7073" stroke-width="0.6"/>
<text x="33.6" y="650.0" class="tk" text-anchor="end">3.0</text>
<line x1="33.4" y1="671.8" x2="34.9" y2="671.8" stroke="#6b7073" stroke-width="0.6"/>
<text x="33.6" y="674.2" class="tk" text-anchor="end">2.5</text>
<line x1="33.4" y1="696.0" x2="34.9" y2="696.0" stroke="#6b7073" stroke-width="0.6"/>
<text x="33.6" y="698.4" class="tk" text-anchor="end">2.0</text>
<line x1="33.4" y1="720.3" x2="34.9" y2="720.3" stroke="#6b7073" stroke-width="0.6"/>
<text x="33.6" y="722.7" class="tk" text-anchor="end">1.5</text>
<line x1="33.4" y1="744.5" x2="34.9" y2="744.5" stroke="#6b7073" stroke-width="0.6"/>
<text x="33.6" y="746.9" class="tk" text-anchor="end">1.0</text>
<text x="39.6" y="648.1" class="pt">P-continuous=0.684</text>
<text x="39.6" y="658.6" class="pt">P-categorical=0.443</text>
<text x="39.6" y="669.2" class="pt">P-non-linear=0.385</text>
<text x="110.7" y="751.5" class="pt">PAR=5.251</text>
<text x="106.2" y="777.8" class="pt" style="font-size:8.9px">PAR (Model 1)</text>
<text transform="translate(24.2,699.1) rotate(-90)" class="yl" text-anchor="middle">OR (95%CI)</text>
<path d="M267.50,739.80L269.70,739.11L271.90,738.42L274.10,737.75L276.30,737.09L278.50,736.43L280.70,735.79L282.90,735.16L285.10,734.53L287.30,733.92L289.50,733.32L291.70,732.72L293.90,732.14L296.10,731.56L298.30,731.00L300.33,727.01L302.36,723.05L304.40,719.13L306.43,715.27L308.46,711.50L310.49,707.84L312.53,704.32L314.56,700.97L316.59,697.85L318.62,694.99L320.66,692.44L322.69,690.19L324.72,688.20L326.75,686.47L328.79,684.96L330.82,683.65L332.85,682.51L334.88,681.51L336.92,680.62L338.95,679.83L340.98,679.12L343.01,678.49L345.05,677.94L347.08,677.47L349.11,677.06L351.14,676.70L353.18,676.37L355.21,676.04L357.24,675.72L359.27,675.38L361.31,675.00L363.34,674.59L365.37,674.14L367.40,673.67L369.44,673.19L371.47,672.69L373.50,672.19L375.53,671.69L377.57,671.19L379.60,670.70L381.63,670.21L383.66,669.72L385.70,669.23L387.73,668.74L389.76,668.25L391.79,667.76L393.83,667.26L395.86,666.75L397.89,666.24L399.92,665.73L401.96,665.20L403.99,664.66L406.02,664.11L408.05,663.55L410.09,662.97L412.12,662.38L414.15,661.77L416.18,661.15L418.22,660.52L420.25,659.87L422.28,659.21L424.31,658.54L426.35,657.85L428.38,657.16L430.41,656.45L432.44,655.73L434.48,655.00L436.51,654.26L438.54,653.51L440.57,652.75L442.61,651.99L444.64,651.22L446.67,650.44L448.70,649.66L450.74,648.87L452.77,648.09L454.80,647.30L454.8,714.7L452.77,714.77L450.74,714.84L448.70,714.91L446.67,714.98L444.64,715.05L442.61,715.12L440.57,715.19L438.54,715.26L436.51,715.34L434.48,715.41L432.44,715.49L430.41,715.57L428.38,715.65L426.35,715.74L424.31,715.82L422.28,715.91L420.25,716.00L418.22,716.09L416.18,716.19L414.15,716.29L412.12,716.39L410.09,716.50L408.05,716.61L406.02,716.72L403.99,716.83L401.96,716.95L399.92,717.07L397.89,717.20L395.86,717.32L393.83,717.45L391.79,717.58L389.76,717.71L387.73,717.85L385.70,717.98L383.66,718.12L381.63,718.25L379.60,718.39L377.57,718.53L375.53,718.66L373.50,718.80L371.47,718.94L369.44,719.07L367.40,719.21L365.37,719.35L363.34,719.49L361.31,719.63L359.27,719.77L357.24,719.91L355.21,720.05L353.18,720.20L351.14,720.34L349.11,720.49L347.08,720.64L345.05,720.80L343.01,720.95L340.98,721.11L338.95,721.28L336.92,721.47L334.88,721.67L332.85,721.89L330.82,722.14L328.79,722.42L326.75,722.73L324.72,723.07L322.69,723.46L320.66,723.90L318.62,724.39L316.59,724.94L314.56,725.54L312.53,726.18L310.49,726.84L308.46,727.52L306.43,728.21L304.40,728.90L302.36,729.60L300.33,730.30L298.30,731.00L296.10,733.90L293.90,736.77L291.70,739.60L289.50,742.35L287.30,744.98L285.10,747.43L282.90,749.67L280.70,751.66L278.50,753.44L276.30,755.00L274.10,756.36L271.90,757.57L269.70,758.66L267.50,759.70Z" fill="#FDD5EE"/>
<line x1="298.3" y1="641.7" x2="298.3" y2="765.5" class="dash"/>
<line x1="258.4" y1="731.0" x2="465.0" y2="731.0" class="dash"/>
<path d="M267.50,753.30L269.54,752.27L271.57,751.22L273.61,750.15L275.64,749.03L277.68,747.85L279.72,746.59L281.75,745.25L283.79,743.81L285.82,742.27L287.86,740.64L289.89,738.92L291.93,737.11L293.97,735.22L296.00,733.25L298.04,731.20L300.07,729.08L302.11,726.91L304.15,724.74L306.18,722.59L308.22,720.49L310.25,718.48L312.29,716.59L314.32,714.84L316.36,713.23L318.40,711.75L320.43,710.40L322.47,709.20L324.50,708.13L326.54,707.19L328.58,706.38L330.61,705.68L332.65,705.07L334.68,704.54L336.72,704.07L338.76,703.64L340.79,703.23L342.83,702.85L344.86,702.49L346.90,702.14L348.93,701.81L350.97,701.48L353.01,701.17L355.04,700.86L357.08,700.56L359.11,700.26L361.15,699.95L363.19,699.64L365.22,699.34L367.26,699.03L369.29,698.71L371.33,698.40L373.37,698.09L375.40,697.78L377.44,697.46L379.47,697.15L381.51,696.84L383.54,696.53L385.58,696.22L387.62,695.92L389.65,695.61L391.69,695.31L393.72,695.01L395.76,694.72L397.80,694.43L399.83,694.15L401.87,693.86L403.90,693.59L405.94,693.31L407.98,693.04L410.01,692.77L412.05,692.51L414.08,692.25L416.12,691.99L418.15,691.74L420.19,691.49L422.23,691.24L424.26,691.00L426.30,690.76L428.33,690.52L430.37,690.28L432.41,690.05L434.44,689.82L436.48,689.59L438.51,689.36L440.55,689.14L442.58,688.92L444.62,688.69L446.66,688.47L448.69,688.25L450.73,688.04L452.76,687.82L454.80,687.60" class="curve"/>
<path d="M258.4,641.7V765.5H465.0" fill="none" stroke="#6b7073" stroke-width="1.4"/>
<line x1="326.2" y1="765.5" x2="326.2" y2="767.0" stroke="#6b7073" stroke-width="0.6"/>
<text x="326.2" y="772.0" class="tk" text-anchor="middle">5</text>
<line x1="402.7" y1="765.5" x2="402.7" y2="767.0" stroke="#6b7073" stroke-width="0.6"/>
<text x="402.7" y="772.0" class="tk" text-anchor="middle">10</text>
<line x1="256.9" y1="660.4" x2="258.4" y2="660.4" stroke="#6b7073" stroke-width="0.6"/>
<text x="257.1" y="662.8" class="tk" text-anchor="end">3</text>
<line x1="256.9" y1="695.4" x2="258.4" y2="695.4" stroke="#6b7073" stroke-width="0.6"/>
<text x="257.1" y="697.8" class="tk" text-anchor="end">2</text>
<line x1="256.9" y1="731.0" x2="258.4" y2="731.0" stroke="#6b7073" stroke-width="0.6"/>
<text x="257.1" y="733.4" class="tk" text-anchor="end">1</text>
<text x="263.3" y="648.1" class="pt">P-continuous=0.023</text>
<text x="263.3" y="658.5" class="pt">P-categorical&lt;0.001</text>
<text x="263.3" y="668.9" class="pt">P-non-linear=0.013</text>
<text x="299.6" y="739.2" class="pt">NHR=3.167</text>
<text x="332.5" y="777.8" class="pt" style="font-size:8.9px">NHR (Model 1)</text>
<text transform="translate(252.3,699.1) rotate(-90)" class="yl" text-anchor="middle">OR (95%CI)</text>
<path d="M494.50,708.20L525.20,717.30L527.25,714.36L529.31,711.30L531.36,708.04L533.42,704.61L535.47,701.05L537.53,697.42L539.58,693.82L541.63,690.34L543.69,687.11L545.74,684.22L547.80,681.68L549.85,679.53L551.90,677.79L553.96,676.41L556.01,675.33L558.07,674.50L560.12,673.84L562.18,673.30L564.23,672.85L566.28,672.46L568.34,672.13L570.39,671.84L572.45,671.56L574.50,671.27L576.55,670.96L578.61,670.63L580.66,670.28L582.72,669.91L584.77,669.53L586.83,669.12L588.88,668.70L590.93,668.26L592.99,667.80L595.04,667.34L597.10,666.86L599.15,666.37L601.20,665.87L603.26,665.36L605.31,664.85L607.37,664.32L609.42,663.80L611.48,663.26L613.53,662.72L615.58,662.18L617.64,661.64L619.69,661.09L621.75,660.54L623.80,659.99L625.85,659.44L627.91,658.89L629.96,658.34L632.02,657.80L634.07,657.25L636.12,656.71L638.18,656.18L640.23,655.65L642.29,655.12L644.34,654.60L646.40,654.08L648.45,653.57L650.50,653.06L652.56,652.55L654.61,652.05L656.67,651.55L658.72,651.05L660.77,650.55L662.83,650.06L664.88,649.57L666.94,649.07L668.99,648.58L671.05,648.09L673.10,647.60L673.1,710.0L671.05,710.13L668.99,710.26L666.94,710.38L664.88,710.51L662.83,710.64L660.77,710.77L658.72,710.90L656.67,711.03L654.61,711.16L652.56,711.28L650.50,711.41L648.45,711.54L646.40,711.67L644.34,711.80L642.29,711.93L640.23,712.06L638.18,712.19L636.12,712.32L634.07,712.45L632.02,712.58L629.96,712.71L627.91,712.84L625.85,712.97L623.80,713.10L621.75,713.23L619.69,713.37L617.64,713.50L615.58,713.63L613.53,713.76L611.48,713.89L609.42,714.03L607.37,714.16L605.31,714.29L603.26,714.42L601.20,714.55L599.15,714.68L597.10,714.81L595.04,714.94L592.99,715.07L590.93,715.19L588.88,715.31L586.83,715.44L584.77,715.56L582.72,715.68L580.66,715.79L578.61,715.91L576.55,716.02L574.50,716.13L572.45,716.23L570.39,716.34L568.34,716.44L566.28,716.54L564.23,716.63L562.18,716.73L560.12,716.82L558.07,716.90L556.01,716.99L553.96,717.07L551.90,717.15L549.85,717.23L547.80,717.30L545.74,717.38L543.69,717.45L541.63,717.50L539.58,717.55L537.53,717.57L535.47,717.58L533.42,717.56L531.36,717.51L529.31,717.45L527.25,717.38L525.20,717.30L523.01,720.46L520.81,723.64L518.62,726.84L516.43,730.05L514.24,733.28L512.04,736.53L509.85,739.94L507.66,743.39L505.46,746.66L503.27,749.56L501.08,752.21L498.89,754.69L496.69,756.96L494.50,759.00Z" fill="#FDD5EE"/>
<line x1="525.2" y1="642.0" x2="525.2" y2="765.5" class="dash"/>
<line x1="486.3" y1="717.3" x2="681.5" y2="717.3" class="dash"/>
<path d="M494.10,742.80L496.13,741.19L498.17,739.57L500.20,737.95L502.24,736.32L504.27,734.69L506.30,733.05L508.34,731.40L510.37,729.74L512.41,728.07L514.44,726.38L516.48,724.68L518.51,722.96L520.54,721.23L522.58,719.49L524.61,717.74L526.65,716.00L528.68,714.28L530.71,712.61L532.75,711.02L534.78,709.55L536.82,708.23L538.85,707.03L540.88,705.97L542.92,705.01L544.95,704.15L546.99,703.38L549.02,702.68L551.05,702.04L553.09,701.46L555.12,700.94L557.16,700.47L559.19,700.04L561.23,699.65L563.26,699.28L565.29,698.94L567.33,698.62L569.36,698.30L571.40,697.99L573.43,697.67L575.46,697.34L577.50,697.00L579.53,696.65L581.57,696.30L583.60,695.93L585.63,695.56L587.67,695.19L589.70,694.82L591.74,694.44L593.77,694.07L595.80,693.70L597.84,693.34L599.87,692.98L601.91,692.64L603.94,692.30L605.98,691.98L608.01,691.66L610.04,691.35L612.08,691.06L614.11,690.77L616.15,690.49L618.18,690.21L620.21,689.94L622.25,689.68L624.28,689.42L626.32,689.17L628.35,688.92L630.38,688.67L632.42,688.43L634.45,688.18L636.49,687.94L638.52,687.70L640.55,687.46L642.59,687.22L644.62,686.98L646.66,686.74L648.69,686.49L650.73,686.25L652.76,686.01L654.79,685.77L656.83,685.53L658.86,685.29L660.90,685.05L662.93,684.81L664.96,684.56L667.00,684.32L669.03,684.08L671.07,683.84L673.10,683.60" class="curve"/>
<path d="M486.3,642.0V765.5H681.5" fill="none" stroke="#333" stroke-width="1.0"/>
<line x1="524.3" y1="765.5" x2="524.3" y2="767.0" stroke="#333" stroke-width="0.6"/>
<text x="524.3" y="771.8" class="tk" text-anchor="middle">10</text>
<line x1="584.6" y1="765.5" x2="584.6" y2="767.0" stroke="#333" stroke-width="0.6"/>
<text x="584.6" y="771.8" class="tk" text-anchor="middle">20</text>
<line x1="643.5" y1="765.5" x2="643.5" y2="767.0" stroke="#333" stroke-width="0.6"/>
<text x="643.5" y="771.8" class="tk" text-anchor="middle">30</text>
<line x1="484.8" y1="658.3" x2="486.3" y2="658.3" stroke="#333" stroke-width="0.6"/>
<text x="485.0" y="660.7" class="tk" text-anchor="end">2.0</text>
<line x1="484.8" y1="687.9" x2="486.3" y2="687.9" stroke="#333" stroke-width="0.6"/>
<text x="485.0" y="690.3" class="tk" text-anchor="end">1.5</text>
<line x1="484.8" y1="717.3" x2="486.3" y2="717.3" stroke="#333" stroke-width="0.6"/>
<text x="485.0" y="719.7" class="tk" text-anchor="end">1.0</text>
<line x1="484.8" y1="747.1" x2="486.3" y2="747.1" stroke="#333" stroke-width="0.6"/>
<text x="485.0" y="749.5" class="tk" text-anchor="end">0.5</text>
<text x="491.5" y="648.1" class="pt">P-continuous=0.032</text>
<text x="491.5" y="658.5" class="pt">P-categorical=0.029</text>
<text x="491.5" y="668.9" class="pt">P-non-linear=0.167</text>
<text x="524.0" y="751.5" class="pt">NAR=10.026</text>
<text x="525.3" y="722.8" class="pt" style="font-size:5px;stroke-width:0.12px">NAR=10.026</text>
<text x="554.6" y="777.3" class="pt" style="font-size:8.9px">NAR (Model 1)</text>
<text transform="translate(473.2,699.4) rotate(-90)" class="yl" text-anchor="middle">OR (95%CI)</text>
<path d="M44.00,801.00L46.12,804.91L48.24,808.76L50.36,812.54L52.48,816.21L54.60,819.76L56.72,823.20L58.84,826.51L60.95,829.70L63.07,832.78L65.19,835.79L67.31,838.76L69.43,841.70L71.55,844.59L73.67,847.38L75.79,850.07L77.91,852.67L80.03,855.22L82.15,857.74L84.27,860.22L86.39,862.63L88.51,864.95L90.63,867.19L92.75,869.37L94.86,871.50L96.98,873.54L99.10,875.42L101.22,877.03L103.34,878.37L105.46,879.50L107.58,880.49L109.70,881.40L111.77,880.79L113.84,880.18L115.91,879.60L117.98,879.05L120.05,878.53L122.12,878.06L124.19,877.62L126.26,877.22L128.33,876.84L130.40,876.47L132.47,876.10L134.54,875.73L136.61,875.35L138.68,874.94L140.75,874.51L142.82,874.04L144.89,873.54L146.96,873.01L149.03,872.46L151.10,871.90L153.17,871.32L155.24,870.74L157.31,870.15L159.38,869.56L161.45,868.97L163.52,868.37L165.59,867.77L167.66,867.16L169.74,866.55L171.81,865.94L173.88,865.32L175.95,864.69L178.02,864.07L180.09,863.43L182.16,862.79L184.23,862.15L186.30,861.50L188.37,860.85L190.44,860.19L192.51,859.53L194.58,858.86L196.65,858.18L198.72,857.51L200.79,856.82L202.86,856.14L204.93,855.45L207.00,854.75L209.07,854.06L211.14,853.36L213.21,852.65L215.28,851.95L217.35,851.24L219.42,850.54L221.49,849.83L223.56,849.12L225.63,848.41L227.70,847.70L227.7,909.7L225.63,909.25L223.56,908.81L221.49,908.36L219.42,907.91L217.35,907.47L215.28,907.02L213.21,906.57L211.14,906.12L209.07,905.67L207.00,905.22L204.93,904.77L202.86,904.32L200.79,903.86L198.72,903.41L196.65,902.95L194.58,902.50L192.51,902.04L190.44,901.58L188.37,901.11L186.30,900.65L184.23,900.18L182.16,899.71L180.09,899.24L178.02,898.76L175.95,898.28L173.88,897.79L171.81,897.29L169.74,896.79L167.66,896.28L165.59,895.77L163.52,895.24L161.45,894.71L159.38,894.16L157.31,893.61L155.24,893.05L153.17,892.48L151.10,891.90L149.03,891.32L146.96,890.76L144.89,890.21L142.82,889.70L140.75,889.21L138.68,888.77L136.61,888.36L134.54,887.98L132.47,887.61L130.40,887.23L128.33,886.85L126.26,886.44L124.19,886.00L122.12,885.51L120.05,884.95L117.98,884.33L115.91,883.65L113.84,882.93L111.77,882.17L109.70,881.40L107.58,882.44L105.46,883.49L103.34,884.54L101.22,885.59L99.10,886.67L96.98,887.75L94.86,888.85L92.75,889.98L90.63,891.12L88.51,892.27L86.39,893.43L84.27,894.59L82.15,895.74L80.03,896.87L77.91,897.98L75.79,899.07L73.67,900.14L71.55,901.20L69.43,902.24L67.31,903.27L65.19,904.30L63.07,905.31L60.95,906.30L58.84,907.26L56.72,908.19L54.60,909.08L52.48,909.92L50.36,910.71L48.24,911.46L46.12,912.19L44.00,912.90Z" fill="#FDD5EE"/>
<line x1="109.7" y1="794.6" x2="109.7" y2="918.7" class="dash"/>
<line x1="34.5" y1="881.4" x2="236.5" y2="881.4" class="dash"/>
<path d="M44.00,879.70L46.04,879.76L48.08,879.82L50.12,879.88L52.16,879.95L54.21,880.01L56.25,880.07L58.29,880.13L60.33,880.19L62.37,880.24L64.41,880.30L66.45,880.36L68.49,880.41L70.53,880.46L72.58,880.52L74.62,880.57L76.66,880.61L78.70,880.66L80.74,880.71L82.78,880.75L84.82,880.80L86.86,880.84L88.90,880.88L90.95,880.93L92.99,880.97L95.03,881.02L97.07,881.06L99.11,881.11L101.15,881.16L103.19,881.22L105.23,881.27L107.27,881.33L109.32,881.39L111.36,881.45L113.40,881.52L115.44,881.59L117.48,881.67L119.52,881.75L121.56,881.83L123.60,881.92L125.64,882.01L127.69,882.11L129.73,882.21L131.77,882.32L133.81,882.43L135.85,882.55L137.89,882.67L139.93,882.80L141.97,882.93L144.01,883.07L146.06,883.21L148.10,883.36L150.14,883.51L152.18,883.66L154.22,883.82L156.26,883.97L158.30,884.13L160.34,884.29L162.38,884.45L164.43,884.60L166.47,884.75L168.51,884.90L170.55,885.05L172.59,885.20L174.63,885.34L176.67,885.47L178.71,885.61L180.75,885.73L182.80,885.86L184.84,885.98L186.88,886.10L188.92,886.21L190.96,886.32L193.00,886.43L195.04,886.54L197.08,886.64L199.12,886.74L201.17,886.84L203.21,886.94L205.25,887.04L207.29,887.13L209.33,887.22L211.37,887.31L213.41,887.40L215.45,887.49L217.49,887.57L219.54,887.66L221.58,887.75L223.62,887.83L225.66,887.92L227.70,888.00" class="curve"/>
<path d="M34.5,794.6V918.7H236.5" fill="none" stroke="#6b7073" stroke-width="1.4"/>
<line x1="37.0" y1="918.7" x2="37.0" y2="920.2" stroke="#6b7073" stroke-width="0.6"/>
<text x="37.0" y="925.3" class="tk" text-anchor="middle">2</text>
<line x1="81.0" y1="918.7" x2="81.0" y2="920.2" stroke="#6b7073" stroke-width="0.6"/>
<text x="81.0" y="925.3" class="tk" text-anchor="middle">4</text>
<line x1="125.5" y1="918.7" x2="125.5" y2="920.2" stroke="#6b7073" stroke-width="0.6"/>
<text x="125.5" y="925.3" class="tk" text-anchor="middle">6</text>
<line x1="170.3" y1="918.7" x2="170.3" y2="920.2" stroke="#6b7073" stroke-width="0.6"/>
<text x="170.3" y="925.3" class="tk" text-anchor="middle">8</text>
<line x1="215.1" y1="918.7" x2="215.1" y2="920.2" stroke="#6b7073" stroke-width="0.6"/>
<text x="215.1" y="925.3" class="tk" text-anchor="middle">10</text>
<line x1="33.0" y1="799.0" x2="34.5" y2="799.0" stroke="#6b7073" stroke-width="0.6"/>
<text x="33.2" y="801.4" class="tk" text-anchor="end">2.5</text>
<line x1="33.0" y1="826.5" x2="34.5" y2="826.5" stroke="#6b7073" stroke-width="0.6"/>
<text x="33.2" y="828.9" class="tk" text-anchor="end">2.0</text>
<line x1="33.0" y1="853.9" x2="34.5" y2="853.9" stroke="#6b7073" stroke-width="0.6"/>
<text x="33.2" y="856.3" class="tk" text-anchor="end">1.5</text>
<line x1="33.0" y1="881.4" x2="34.5" y2="881.4" stroke="#6b7073" stroke-width="0.6"/>
<text x="33.2" y="883.8" class="tk" text-anchor="end">1.0</text>
<line x1="33.0" y1="909.0" x2="34.5" y2="909.0" stroke="#6b7073" stroke-width="0.6"/>
<text x="33.2" y="911.4" class="tk" text-anchor="end">0.5</text>
<text x="39.6" y="801.1" class="pt">P-continuous=0.675</text>
<text x="39.6" y="811.6" class="pt">P-categorical=0.571</text>
<text x="39.6" y="822.1" class="pt">P-non-linear=0.941</text>
<text x="110.7" y="889.6" class="pt">PAR=5.251</text>
<text x="106.2" y="931.3" class="pt" style="font-size:8.9px">PAR (Model 1)</text>
<text transform="translate(24.6,852.4) rotate(-90)" class="yl" text-anchor="middle">OR (95%CI)</text>
<path d="M267.70,800.40L269.89,809.14L272.07,817.51L274.26,825.21L276.44,832.21L278.63,838.60L280.81,844.45L283.00,849.78L285.19,854.63L287.37,859.06L289.56,863.13L291.74,866.90L293.93,870.46L296.11,873.87L298.30,877.20L300.35,875.06L302.39,872.94L304.44,870.82L306.49,868.72L308.53,866.64L310.58,864.60L312.63,862.59L314.67,860.63L316.72,858.72L318.77,856.90L320.81,855.16L322.86,853.52L324.91,851.99L326.95,850.59L329.00,849.31L331.05,848.14L333.09,847.07L335.14,846.09L337.19,845.18L339.23,844.34L341.28,843.57L343.33,842.83L345.37,842.14L347.42,841.48L349.47,840.85L351.51,840.24L353.56,839.65L355.61,839.07L357.65,838.50L359.70,837.93L361.75,837.35L363.79,836.78L365.84,836.19L367.89,835.61L369.93,835.01L371.98,834.42L374.03,833.81L376.07,833.21L378.12,832.60L380.17,831.98L382.21,831.36L384.26,830.73L386.31,830.10L388.35,829.46L390.40,828.82L392.45,828.17L394.49,827.52L396.54,826.87L398.59,826.21L400.63,825.54L402.68,824.88L404.73,824.21L406.77,823.55L408.82,822.90L410.87,822.24L412.91,821.60L414.96,820.96L417.01,820.33L419.05,819.72L421.10,819.11L423.15,818.53L425.19,817.95L427.24,817.40L429.29,816.86L431.33,816.33L433.38,815.82L435.43,815.32L437.47,814.83L439.52,814.35L441.57,813.88L443.61,813.42L445.66,812.96L447.71,812.50L449.75,812.05L451.80,811.60L451.8,886.3L449.75,886.48L447.71,886.66L445.66,886.83L443.61,887.01L441.57,887.19L439.52,887.37L437.47,887.55L435.43,887.73L433.38,887.92L431.33,888.10L429.29,888.28L427.24,888.47L425.19,888.66L423.15,888.85L421.10,889.04L419.05,889.23L417.01,889.42L414.96,889.62L412.91,889.82L410.87,890.02L408.82,890.22L406.77,890.42L404.73,890.63L402.68,890.84L400.63,891.05L398.59,891.26L396.54,891.47L394.49,891.68L392.45,891.88L390.40,892.09L388.35,892.30L386.31,892.51L384.26,892.71L382.21,892.91L380.17,893.11L378.12,893.31L376.07,893.50L374.03,893.69L371.98,893.88L369.93,894.06L367.89,894.23L365.84,894.39L363.79,894.55L361.75,894.70L359.70,894.83L357.65,894.96L355.61,895.07L353.56,895.17L351.51,895.25L349.47,895.32L347.42,895.37L345.37,895.40L343.33,895.42L341.28,895.41L339.23,895.37L337.19,895.31L335.14,895.22L333.09,895.09L331.05,894.92L329.00,894.71L326.95,894.46L324.91,894.16L322.86,893.77L320.81,893.29L318.77,892.68L316.72,891.93L314.67,891.01L312.63,889.91L310.58,888.60L308.53,887.07L306.49,885.33L304.44,883.44L302.39,881.43L300.35,879.34L298.30,877.20L296.11,878.90L293.93,880.87L291.74,883.13L289.56,885.86L287.37,888.86L285.19,891.84L283.00,894.56L280.81,897.16L278.63,899.71L276.44,902.20L274.26,904.63L272.07,907.00L269.89,909.29L267.70,911.50Z" fill="#FDD5EE"/>
<line x1="298.3" y1="793.4" x2="298.3" y2="917.8" class="dash"/>
<line x1="258.9" y1="877.2" x2="465.0" y2="877.2" class="dash"/>
<path d="M267.70,874.30L269.72,874.54L271.75,874.78L273.77,875.02L275.79,875.25L277.82,875.48L279.84,875.70L281.86,875.91L283.88,876.11L285.91,876.30L287.93,876.48L289.95,876.64L291.98,876.79L294.00,876.91L296.02,877.01L298.05,877.08L300.07,877.12L302.09,877.13L304.12,877.12L306.14,877.10L308.16,877.06L310.18,877.02L312.21,876.97L314.23,876.91L316.25,876.84L318.28,876.76L320.30,876.66L322.32,876.53L324.35,876.38L326.37,876.20L328.39,875.99L330.42,875.74L332.44,875.46L334.46,875.17L336.48,874.85L338.51,874.54L340.53,874.22L342.55,873.90L344.58,873.60L346.60,873.31L348.62,873.04L350.65,872.79L352.67,872.55L354.69,872.32L356.72,872.10L358.74,871.88L360.76,871.67L362.78,871.45L364.81,871.23L366.83,871.01L368.85,870.77L370.88,870.53L372.90,870.27L374.92,870.00L376.95,869.71L378.97,869.40L380.99,869.08L383.02,868.74L385.04,868.39L387.06,868.02L389.08,867.65L391.11,867.27L393.13,866.88L395.15,866.48L397.18,866.08L399.20,865.67L401.22,865.26L403.25,864.86L405.27,864.45L407.29,864.04L409.32,863.64L411.34,863.24L413.36,862.85L415.38,862.46L417.41,862.08L419.43,861.70L421.45,861.32L423.48,860.95L425.50,860.58L427.52,860.22L429.55,859.85L431.57,859.50L433.59,859.14L435.62,858.78L437.64,858.43L439.66,858.08L441.68,857.73L443.71,857.38L445.73,857.04L447.75,856.69L449.78,856.35L451.80,856.00" class="curve"/>
<path d="M258.9,793.4V917.8H465.0" fill="none" stroke="#6b7073" stroke-width="1.4"/>
<line x1="325.3" y1="917.8" x2="325.3" y2="919.3" stroke="#6b7073" stroke-width="0.6"/>
<text x="325.3" y="923.9" class="tk" text-anchor="middle">5</text>
<line x1="400.4" y1="917.8" x2="400.4" y2="919.3" stroke="#6b7073" stroke-width="0.6"/>
<text x="400.4" y="923.9" class="tk" text-anchor="middle">10</text>
<line x1="257.4" y1="803.4" x2="258.9" y2="803.4" stroke="#6b7073" stroke-width="0.6"/>
<text x="257.6" y="805.8" class="tk" text-anchor="end">2.0</text>
<line x1="257.4" y1="840.7" x2="258.9" y2="840.7" stroke="#6b7073" stroke-width="0.6"/>
<text x="257.6" y="843.1" class="tk" text-anchor="end">1.5</text>
<line x1="257.4" y1="877.3" x2="258.9" y2="877.3" stroke="#6b7073" stroke-width="0.6"/>
<text x="257.6" y="879.7" class="tk" text-anchor="end">1.0</text>
<line x1="257.4" y1="914.6" x2="258.9" y2="914.6" stroke="#6b7073" stroke-width="0.6"/>
<text x="257.6" y="917.0" class="tk" text-anchor="end">0.5</text>
<text x="263.3" y="800.4" class="pt">P-continuous=0.055</text>
<text x="263.3" y="810.9" class="pt">P-categorical=0.118</text>
<text x="263.3" y="821.4" class="pt">P-non-linear=0.783</text>
<text x="299.6" y="885.2" class="pt">NHR=3.167</text>
<text x="330.2" y="930.4" class="pt" style="font-size:8.9px">NHR (Model 1)</text>
<text transform="translate(249.9,852.0) rotate(-90)" class="yl" text-anchor="middle">OR (95%CI)</text>
<path d="M494.50,802.80L496.69,811.58L498.89,820.15L501.08,828.25L503.27,835.68L505.46,842.48L507.66,848.75L509.85,854.59L512.04,860.04L514.24,865.13L516.43,869.82L518.62,874.12L520.81,878.18L523.01,882.24L525.20,886.40L527.25,885.18L529.31,883.96L531.36,882.75L533.42,881.56L535.47,880.38L537.53,879.22L539.58,878.10L541.63,877.03L543.69,876.03L545.74,875.11L547.80,874.28L549.85,873.56L551.90,872.95L553.96,872.42L556.01,871.98L558.07,871.61L560.12,871.31L562.18,871.07L564.23,870.87L566.28,870.72L568.34,870.59L570.39,870.49L572.45,870.40L574.50,870.30L576.55,870.20L578.61,870.07L580.66,869.91L582.72,869.71L584.77,869.49L586.83,869.23L588.88,868.96L590.93,868.67L592.99,868.37L595.04,868.06L597.10,867.75L599.15,867.44L601.20,867.14L603.26,866.85L605.31,866.57L607.37,866.30L609.42,866.04L611.48,865.78L613.53,865.53L615.58,865.29L617.64,865.05L619.69,864.81L621.75,864.57L623.80,864.33L625.85,864.09L627.91,863.86L629.96,863.61L632.02,863.37L634.07,863.12L636.12,862.87L638.18,862.61L640.23,862.35L642.29,862.08L644.34,861.81L646.40,861.53L648.45,861.25L650.50,860.97L652.56,860.68L654.61,860.39L656.67,860.10L658.72,859.81L660.77,859.51L662.83,859.21L664.88,858.91L666.94,858.61L668.99,858.31L671.05,858.00L673.10,857.70L673.1,901.0L671.05,901.01L668.99,901.03L666.94,901.04L664.88,901.06L662.83,901.07L660.77,901.09L658.72,901.11L656.67,901.13L654.61,901.15L652.56,901.17L650.50,901.19L648.45,901.22L646.40,901.25L644.34,901.28L642.29,901.31L640.23,901.35L638.18,901.39L636.12,901.43L634.07,901.48L632.02,901.53L629.96,901.58L627.91,901.64L625.85,901.71L623.80,901.77L621.75,901.84L619.69,901.92L617.64,902.00L615.58,902.09L613.53,902.18L611.48,902.27L609.42,902.37L607.37,902.47L605.31,902.57L603.26,902.66L601.20,902.76L599.15,902.86L597.10,902.95L595.04,903.04L592.99,903.12L590.93,903.20L588.88,903.27L586.83,903.33L584.77,903.39L582.72,903.43L580.66,903.47L578.61,903.49L576.55,903.50L574.50,903.50L572.45,903.49L570.39,903.46L568.34,903.41L566.28,903.35L564.23,903.27L562.18,903.17L560.12,903.05L558.07,902.90L556.01,902.72L553.96,902.51L551.90,902.26L549.85,901.97L547.80,901.64L545.74,901.26L543.69,900.79L541.63,900.17L539.58,899.35L537.53,898.30L535.47,896.95L533.42,895.26L531.36,893.30L529.31,891.12L527.25,888.80L525.20,886.40L523.01,887.98L520.81,889.62L518.62,891.31L516.43,893.06L514.24,894.84L512.04,896.67L509.85,898.62L507.66,900.64L505.46,902.65L503.27,904.54L501.08,906.36L498.89,908.13L496.69,909.84L494.50,911.50Z" fill="#FDD5EE"/>
<line x1="525.2" y1="793.4" x2="525.2" y2="917.3" class="dash"/>
<line x1="485.9" y1="886.4" x2="681.5" y2="886.4" class="dash"/>
<path d="M494.50,874.70L496.53,875.58L498.56,876.46L500.59,877.34L502.62,878.20L504.65,879.05L506.68,879.88L508.71,880.70L510.74,881.50L512.77,882.27L514.80,883.01L516.83,883.73L518.85,884.42L520.88,885.06L522.91,885.66L524.94,886.22L526.97,886.73L529.00,887.18L531.03,887.58L533.06,887.94L535.09,888.25L537.12,888.51L539.15,888.73L541.18,888.90L543.21,889.03L545.24,889.13L547.27,889.20L549.30,889.24L551.33,889.25L553.36,889.24L555.39,889.22L557.42,889.19L559.45,889.15L561.48,889.10L563.50,889.04L565.53,888.97L567.56,888.90L569.59,888.83L571.62,888.75L573.65,888.67L575.68,888.58L577.71,888.50L579.74,888.42L581.77,888.33L583.80,888.25L585.83,888.17L587.86,888.08L589.89,888.00L591.92,887.91L593.95,887.81L595.98,887.71L598.01,887.61L600.04,887.49L602.07,887.37L604.10,887.24L606.12,887.11L608.15,886.97L610.18,886.82L612.21,886.67L614.24,886.52L616.27,886.36L618.30,886.20L620.33,886.04L622.36,885.88L624.39,885.72L626.42,885.56L628.45,885.40L630.48,885.24L632.51,885.09L634.54,884.94L636.57,884.80L638.60,884.66L640.63,884.53L642.66,884.40L644.69,884.27L646.72,884.15L648.75,884.03L650.77,883.92L652.80,883.81L654.83,883.70L656.86,883.59L658.89,883.49L660.92,883.39L662.95,883.29L664.98,883.19L667.01,883.09L669.04,882.99L671.07,882.90L673.10,882.80" class="curve"/>
<path d="M485.9,793.4V917.3H681.5" fill="none" stroke="#333" stroke-width="1.0"/>
<line x1="524.3" y1="917.3" x2="524.3" y2="918.8" stroke="#333" stroke-width="0.6"/>
<text x="524.3" y="923.9" class="tk" text-anchor="middle">10</text>
<line x1="584.8" y1="917.3" x2="584.8" y2="918.8" stroke="#333" stroke-width="0.6"/>
<text x="584.8" y="923.9" class="tk" text-anchor="middle">20</text>
<line x1="643.5" y1="917.3" x2="643.5" y2="918.8" stroke="#333" stroke-width="0.6"/>
<text x="643.5" y="923.9" class="tk" text-anchor="middle">30</text>
<line x1="484.4" y1="794.6" x2="485.9" y2="794.6" stroke="#333" stroke-width="0.6"/>
<text x="484.6" y="797.0" class="tk" text-anchor="end">2.5</text>
<line x1="484.4" y1="825.0" x2="485.9" y2="825.0" stroke="#333" stroke-width="0.6"/>
<text x="484.6" y="827.4" class="tk" text-anchor="end">2.0</text>
<line x1="484.4" y1="856.0" x2="485.9" y2="856.0" stroke="#333" stroke-width="0.6"/>
<text x="484.6" y="858.4" class="tk" text-anchor="end">1.5</text>
<line x1="484.4" y1="886.6" x2="485.9" y2="886.6" stroke="#333" stroke-width="0.6"/>
<text x="484.6" y="889.0" class="tk" text-anchor="end">1.0</text>
<line x1="484.4" y1="917.3" x2="485.9" y2="917.3" stroke="#333" stroke-width="0.6"/>
<text x="484.6" y="919.7" class="tk" text-anchor="end">0.5</text>
<text x="491.5" y="799.9" class="pt">P-continuous=0.389</text>
<text x="491.5" y="810.4" class="pt">P-categorical=0.365</text>
<text x="491.5" y="820.9" class="pt">P-non-linear=0.579</text>
<text x="528.7" y="896.2" class="pt">NAR=10.026</text>
<text x="554.6" y="930.4" class="pt" style="font-size:8.9px">NAR (Model 1)</text>
<text transform="translate(473.2,851.1) rotate(-90)" class="yl" text-anchor="middle">OR (95%CI)</text>
<text transform="translate(12.2,92.8) rotate(-90)" x="-31.4" class="rl" textLength="62.8" lengthAdjust="spacingAndGlyphs">B/C POPF</text>
<text transform="translate(12.0,246.8) rotate(-90)" x="-9.0" class="rl" textLength="18.0" lengthAdjust="spacingAndGlyphs">SSI</text>
<text transform="translate(12.2,398.4) rotate(-90)" x="-38.2" class="rl" textLength="76.4" lengthAdjust="spacingAndGlyphs">Hemorrhage</text>
<text transform="translate(12.2,552.1) rotate(-90)" x="-15.1" class="rl" textLength="30.1" lengthAdjust="spacingAndGlyphs">DGE</text>
<text transform="translate(12.2,705.1) rotate(-90)" x="-64.0" class="rl" textLength="128.0" lengthAdjust="spacingAndGlyphs">CD<tspan style="font-size:18px">≥</tspan>3 complication</text>
<text transform="translate(12.2,858.0) rotate(-90)" x="-38.2" class="rl" textLength="76.5" lengthAdjust="spacingAndGlyphs">Readmission</text>
<text x="115.9" y="11.7" class="rl" textLength="28.8" lengthAdjust="spacingAndGlyphs">PAR</text>
<text x="338.7" y="11.7" class="rl" textLength="33.9" lengthAdjust="spacingAndGlyphs">NHR</text>
<text x="562.0" y="11.9" class="rl" textLength="31.5" lengthAdjust="spacingAndGlyphs">NAR</text>
</svg>
</body></html>
